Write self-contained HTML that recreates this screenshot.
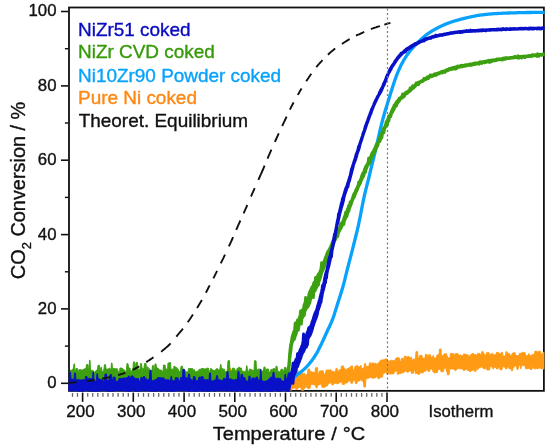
<!DOCTYPE html>
<html lang="en"><head><meta charset="utf-8"><title>CO2 Conversion vs Temperature</title>
<style>html,body{margin:0;padding:0;background:#fff}body{width:550px;height:448px;overflow:hidden}</style></head>
<body>
<svg width="550" height="448" viewBox="0 0 550 448" style="display:block">
<rect width="550" height="448" fill="#fff"/>
<defs><clipPath id="c"><rect x="68.4" y="7.5" width="476.3" height="383.9"/></clipPath></defs>
<rect x="69.0" y="7.5" width="474.9" height="383.35" fill="none" stroke="#111" stroke-width="1.8"/>
<g clip-path="url(#c)" fill="none" stroke-linejoin="round" stroke-linecap="round">
<path d="M71,374.9 71.5,374.9 72,374.9 72.5,374.9 73,374.9 73.5,374.9 74,374.6 74.5,374.6 75,374.6 75.5,374.6 76,374.6 76.5,377.8 77,377.8 77.5,377.8 78,377.8 78.5,375.7 79,375.7 79.5,375.7 80,374.7 80.5,374.7 81,374.7 81.5,374.7 82,374.7 82.5,376.5 83,376.5 83.5,376.5 84,376.5 84.5,376.5 85,376.5 85.5,378.0 86,378.0 86.5,378.0 87,377.4 87.5,377.4 88,377.4 88.5,377.4 89,377.1 89.5,377.1 90,371.2 90.5,371.2 91,371.2 91.5,371.2 92,371.2 92.5,375.1 93,375.1 93.5,377.6 94,377.6 94.5,377.7 95,377.7 95.5,377.7 96,377.7 96.5,377.7 97,376.3 97.5,376.3 98,375.1 98.5,375.1 99,375.1 99.5,375.1 100,376.4 100.5,376.4 101,376.4 101.5,378.7 102,378.7 102.5,378.7 103,378.7 103.5,378.7 104,378.7 104.5,376.6 105,376.6 105.5,376.6 106,376.6 106.5,376.6 107,376.0 107.5,376.0 108,376.0 108.5,378.8 109,378.8 109.5,378.8 110,378.8 110.5,378.8 111,378.8 111.5,375.5 112,375.5 112.5,375.5 113,375.5 113.5,375.5 114,375.8 114.5,375.8 115,375.8 115.5,375.8 116,375.8 116.5,375.8 117,374.9 117.5,374.9 118,374.9 118.5,378.9 119,378.9 119.5,376.0 120,376.0 120.5,378.0 121,378.0 121.5,378.0 122,378.0 122.5,378.0 123,377.4 123.5,377.4 124,377.4 124.5,377.4 125,377.4 125.5,377.5 126,377.5 126.5,377.5 127,377.5 127.5,377.5 128,377.5 128.5,378.6 129,378.6 129.5,378.6 130,378.5 130.5,378.5 131,378.5 131.5,378.4 132,378.4 132.5,378.4 133,378.4 133.5,377.7 134,377.7 134.5,377.7 135,378.8 135.5,378.8 136,378.8 136.5,378.8 137,378.8 137.5,378.7 138,378.7 138.5,378.7 139,378.7 139.5,378.7 140,378.7 140.5,375.0 141,375.0 141.5,375.0 142,375.0 142.5,375.1 143,375.1 143.5,375.1 144,375.1 144.5,375.1 145,376.2 145.5,372.4 146,372.4 146.5,372.4 147,376.3 147.5,377.7 148,377.7 148.5,377.7 149,371.8 149.5,371.8 150,371.8 150.5,371.8 151,371.8 151.5,375.0 152,375.0 152.5,375.0 153,375.0 153.5,375.3 154,375.3 154.5,375.4 155,375.4 155.5,375.4 156,375.4 156.5,375.4 157,375.4 157.5,378.7 158,378.7 158.5,378.7 159,378.7 159.5,378.7 160,376.0 160.5,376.0 161,376.0 161.5,376.0 162,376.0 162.5,377.5 163,377.5 163.5,377.5 164,377.5 164.5,377.5 165,377.4 165.5,377.4 166,375.4 166.5,375.4 167,375.9 167.5,375.9 168,375.9 168.5,377.2 169,377.2 169.5,377.2 170,377.2 170.5,377.2 171,375.7 171.5,375.7 172,375.7 172.5,375.0 173,375.0 173.5,375.0 174,375.0 174.5,375.0 175,378.4 175.5,378.4 176,378.5 176.5,378.5 177,379.0 177.5,379.0 178,375.1 178.5,375.1 179,375.1 179.5,375.1 180,375.1 180.5,377.4 181,377.4 181.5,377.4 182,377.4 182.5,375.5 183,375.5 183.5,375.5 184,374.0 184.5,374.0 185,374.1 185.5,374.1 186,374.1 186.5,378.1 187,377.1 187.5,377.1 188,377.3 188.5,377.3 189,377.3 189.5,377.3 190,377.3 190.5,377.3 191,374.8 191.5,374.8 192,378.6 192.5,378.6 193,378.6 193.5,378.6 194,378.6 194.5,373.9 195,373.9 195.5,373.9 196,378.6 196.5,378.6 197,378.6 197.5,378.6 198,377.2 198.5,377.3 199,377.3 199.5,377.3 200,377.3 200.5,377.3 201,377.0 201.5,377.0 202,376.4 202.5,376.4 203,376.4 203.5,376.4 204,376.4 204.5,376.4 205,375.0 205.5,375.0 206,374.9 206.5,374.9 207,374.9 207.5,374.9 208,377.5 208.5,377.5 209,377.5 209.5,375.1 210,375.1 210.5,375.1 211,375.1 211.5,375.5 212,375.5 212.5,375.5 213,375.5 213.5,375.8 214,375.8 214.5,375.8 215,375.8 215.5,375.8 216,378.3 216.5,378.3 217,377.0 217.5,377.0 218,377.0 218.5,377.0 219,378.3 219.5,378.3 220,378.3 220.5,378.3 221,378.3 221.5,378.3 222,377.4 222.5,377.4 223,377.4 223.5,377.4 224,377.4 224.5,377.4 225,376.4 225.5,376.4 226,376.4 226.5,376.4 227,377.5 227.5,377.5 228,377.5 228.5,377.5 229,377.5 229.5,377.5 230,368.6 230.5,368.6 231,368.6 231.5,375.3 232,375.3 232.5,376.1 233,376.1 233.5,376.1 234,376.1 234.5,376.1 235,376.3 235.5,376.3 236,379.0 236.5,379.0 237,379.0 237.5,379.0 238,379.0 238.5,379.0 239,376.0 239.5,376.0 240,376.0 240.5,376.0 241,376.0 241.5,376.0 242,378.2 242.5,378.2 243,378.2 243.5,378.2 244,376.0 244.5,376.0 245,375.4 245.5,375.4 246,375.4 246.5,375.4 247,375.4 247.5,375.4 248,377.5 248.5,377.5 249,377.5 249.5,377.5 250,377.1 250.5,377.1 251,377.1 251.5,378.5 252,378.5 252.5,378.5 253,378.5 253.5,378.2 254,378.2 254.5,378.2 255,378.2 255.5,378.2 256,378.6 256.5,378.6 257,378.6 257.5,376.3 258,376.3 258.5,377.7 259,377.7 259.5,377.8 260,375.0 260.5,375.0 261,375.0 261.5,377.7 262,377.7 262.5,375.5 263,375.5 263.5,375.5 264,377.6 264.5,377.6 265,377.6 265.5,377.6 266,377.6 266.5,377.3 267,377.3 267.5,377.3 268,377.3 268.5,379.3 269,379.3 269.5,379.3 270,379.3 270.5,375.8 271,375.9 271.5,375.9 272,375.9 272.5,375.9 273,375.9 273.5,375.4 274,375.4 274.5,378.9 275,378.9 275.5,378.9 276,378.9 276.5,378.9 277,377.5 277.5,377.5 278,377.5 278.5,377.5 279,377.5 279.5,377.3 280,377.3 280.5,375.5 281,375.5 281.5,376.4 282,376.4 282.5,378.9 283,378.9 283.5,379.5 284,379.5 284.5,377.3 285,377.3 285.5,377.3 286,377.3 286.5,377.3 287,376.7 287.5,376.7 288,376.7 288.5,376.7 289,376.7 289.5,376.6 290,375.2 290.5,375.1 291,377.4 291.5,377.3 292,377.2 292.5,377.3 293,377.2 293.5,377.1 294,377.0 294.5,375.6 295,375.5 295.5,375.4 296,375.3 296.5,367.3 297,367.2 297.5,367.1 298,373.5 298.5,373.4 299,373.3 299.5,373.2 300,373.4 300.5,373.3 301,373.2 301.5,373.1 302,373.7 302.5,373.6 303,373.5 303.5,373.4 304,373.3 304.5,373.1 305,374.8 305.5,374.7 306,375.5 306.5,375.4 307,374.0 307.5,373.9 308,369.1 308.5,369.0 309,369.0 309.5,368.9 310,371.7 310.5,371.7 311,371.6 311.5,371.6 312,372.3 312.5,372.2 313,372.2 313.5,372.1 314,372.1 314.5,372.7 315,372.6 315.5,367.8 316,367.7 316.5,367.7 317,367.6 317.5,367.5 318,373.8 318.5,373.7 319,373.7 319.5,371.0 320,371.0 320.5,370.9 321,370.9 321.5,370.8 322,370.8 322.5,370.7 323,370.6 323.5,373.6 324,373.5 324.5,374.0 325,373.9 325.5,373.9 326,370.3 326.5,370.2 327,370.2 327.5,370.1 328,370.1 328.5,370.1 329,370.1 329.5,370.0 330,370.0 330.5,369.9 331,369.8 331.5,371.5 332,371.5 332.5,371.4 333,371.4 333.5,371.3 334,371.2 334.5,372.3 335,372.2 335.5,372.2 336,368.5 336.5,368.4 337,368.3 337.5,371.2 338,371.2 338.5,371.1 339,371.1 339.5,369.6 340,369.5 340.5,369.5 341,370.1 341.5,366.1 342,366.1 342.5,366.0 343,365.9 343.5,365.9 344,368.7 344.5,368.6 345,368.6 345.5,369.8 346,369.8 346.5,369.7 347,368.5 347.5,368.5 348,368.4 348.5,368.3 349,368.3 349.5,367.3 350,367.3 350.5,367.2 351,366.0 351.5,366.0 352,365.9 352.5,365.9 353,370.2 353.5,370.1 354,370.1 354.5,370.0 355,366.3 355.5,366.2 356,365.9 356.5,365.8 357,365.7 357.5,365.6 358,367.0 358.5,366.9 359,366.8 359.5,366.6 360,366.5 360.5,365.5 361,365.4 361.5,368.7 362,368.6 362.5,368.4 363,368.3 363.5,368.2 364,368.1 364.5,363.8 365,363.7 365.5,363.6 366,366.7 366.5,366.6 367,366.5 367.5,366.3 368,366.2 368.5,366.2 369,366.1 369.5,362.9 370,362.8 370.5,362.7 371,363.8 371.5,363.6 372,363.5 372.5,363.1 373,362.9 373.5,362.8 374,363.7 374.5,363.6 375,363.5 375.5,363.3 376,363.2 376.5,364.9 377,364.7 377.5,363.3 378,363.2 378.5,363.0 379,362.9 379.5,361.7 380,361.6 380.5,360.2 381,360.1 381.5,360.0 382,360.1 382.5,360.0 383,359.9 383.5,359.7 384,359.6 384.5,359.5 385,359.0 385.5,358.9 386,358.9 386.5,358.8 387,358.8 387.5,361.3 388,361.3 388.5,361.2 389,361.2 389.5,361.1 390,361.1 390.5,360.4 391,360.4 391.5,360.3 392,360.5 392.5,360.5 393,360.4 393.5,360.4 394,360.4 394.5,361.1 395,361.0 395.5,358.5 396,358.4 396.5,357.8 397,357.8 397.5,357.7 398,357.7 398.5,357.6 399,358.2 399.5,358.2 400,361.6 400.5,361.5 401,361.5 401.5,358.4 402,358.4 402.5,358.3 403,358.3 403.5,358.3 404,360.6 404.5,356.1 405,356.0 405.5,356.0 406,360.4 406.5,356.8 407,356.7 407.5,356.7 408,356.6 408.5,356.6 409,356.6 409.5,357.3 410,357.3 410.5,357.2 411,357.2 411.5,357.2 412,360.4 412.5,360.3 413,360.3 413.5,358.9 414,358.9 414.5,358.9 415,359.8 415.5,359.7 416,351.6 416.5,351.6 417,351.5 417.5,351.5 418,358.2 418.5,358.1 419,358.1 419.5,355.5 420,355.5 420.5,355.4 421,355.4 421.5,355.4 422,355.3 422.5,358.4 423,358.3 423.5,358.3 424,358.3 424.5,358.2 425,358.2 425.5,354.3 426,354.3 426.5,354.2 427,356.9 427.5,355.3 428,355.3 428.5,354.9 429,354.9 429.5,354.8 430,354.8 430.5,354.8 431,357.6 431.5,357.6 432,357.6 432.5,357.5 433,355.6 433.5,355.5 434,358.1 434.5,358.1 435,358.1 435.5,358.0 436,358.0 436.5,358.0 437,354.9 437.5,354.8 438,354.8 438.5,354.7 439,354.7 439.5,349.1 440,349.0 440.5,349.0 441,348.9 441.5,357.2 442,357.2 442.5,355.5 443,355.5 443.5,355.4 444,353.9 444.5,353.9 445,353.8 445.5,353.8 446,353.8 446.5,353.7 447,356.4 447.5,356.3 448,358.0 448.5,357.9 449,357.9 449.5,357.9 450,357.8 450.5,353.4 451,353.4 451.5,353.4 452,353.4 452.5,353.6 453,353.5 453.5,353.5 454,354.9 454.5,354.9 455,354.9 455.5,353.5 456,353.5 456.5,353.5 457,353.5 457.5,353.5 458,353.5 458.5,356.1 459,356.1 459.5,356.1 460,354.7 460.5,354.7 461,355.9 461.5,355.8 462,355.8 462.5,355.8 463,355.8 463.5,354.0 464,354.0 464.5,354.0 465,354.0 465.5,354.0 466,354.7 466.5,354.7 467,354.7 467.5,354.7 468,354.7 468.5,355.9 469,355.9 469.5,355.9 470,355.9 470.5,355.9 471,354.1 471.5,354.1 472,354.1 472.5,353.5 473,353.4 473.5,353.4 474,354.5 474.5,354.5 475,354.5 475.5,354.5 476,354.4 476.5,355.4 477,355.4 477.5,353.4 478,353.4 478.5,353.4 479,353.4 479.5,353.3 480,354.2 480.5,354.2 481,354.2 481.5,354.2 482,351.5 482.5,351.4 483,351.4 483.5,353.3 484,353.3 484.5,355.2 485,355.2 485.5,355.2 486,355.2 486.5,352.7 487,352.7 487.5,352.7 488,352.6 488.5,352.6 489,352.6 489.5,355.3 490,355.3 490.5,355.3 491,353.7 491.5,353.7 492,353.7 492.5,353.7 493,353.7 493.5,355.6 494,355.6 494.5,354.6 495,354.5 495.5,354.7 496,354.7 496.5,352.4 497,352.4 497.5,352.4 498,352.4 498.5,352.4 499,353.7 499.5,353.7 500,353.7 500.5,353.6 501,353.6 501.5,352.4 502,352.4 502.5,352.4 503,356.1 503.5,356.1 504,356.0 504.5,356.0 505,356.0 505.5,356.0 506,351.7 506.5,351.7 507,351.7 507.5,353.6 508,353.6 508.5,353.6 509,353.6 509.5,353.5 510,355.5 510.5,355.5 511,355.5 511.5,355.5 512,353.6 512.5,353.6 513,352.7 513.5,352.7 514,352.7 514.5,352.7 515,352.7 515.5,355.3 516,355.3 516.5,355.6 517,355.6 517.5,355.5 518,355.5 518.5,355.5 519,355.5 519.5,353.2 520,353.2 520.5,353.2 521,353.5 521.5,353.5 522,352.3 522.5,352.3 523,352.3 523.5,352.3 524,352.8 524.5,352.8 525,352.7 525.5,355.7 526,355.7 526.5,355.7 527,355.7 527.5,355.4 528,355.4 528.5,353.8 529,353.8 529.5,355.8 530,355.8 530.5,355.7 531,355.7 531.5,355.7 532,354.6 532.5,354.6 533,354.6 533.5,354.6 534,354.6 534.5,354.6 535,351.1 535.5,351.1 536,351.1 536.5,351.1 537,351.8 537.5,351.8 538,351.8 538.5,351.8 539,351.3 539.5,351.3 540,351.2 540.5,351.2 541,354.3 541.5,354.3 542,354.3 542.5,354.2 543,352.5 543.5,352.4 544,352.4 L544,368.9 543.5,369.1 543,369.1 542.5,368.7 542,368.7 541.5,368.8 541,368.8 540.5,368.1 540,368.1 539.5,368.1 539,368.1 538.5,368.2 538,368.9 537.5,368.9 537,368.5 536.5,368.5 536,368.5 535.5,368.8 535,368.8 534.5,368.8 534,368.8 533.5,366.7 533,366.8 532.5,366.8 532,369.4 531.5,369.4 531,369.5 530.5,369.5 530,369.5 529.5,368.4 529,368.4 528.5,368.4 528,368.4 527.5,368.7 527,368.8 526.5,368.8 526,368.8 525.5,368.8 525,365.4 524.5,365.5 524,365.5 523.5,365.7 523,365.7 522.5,365.7 522,365.8 521.5,365.8 521,368.7 520.5,368.7 520,365.1 519.5,365.1 519,365.1 518.5,365.1 518,369.5 517.5,369.5 517,369.5 516.5,366.0 516,366.0 515.5,366.0 515,366.0 514.5,366.0 514,367.5 513.5,367.5 513,367.5 512.5,370.7 512,370.7 511.5,370.7 511,368.7 510.5,368.7 510,368.7 509.5,368.8 509,368.8 508.5,366.0 508,366.0 507.5,366.0 507,368.8 506.5,368.8 506,368.8 505.5,368.8 505,367.0 504.5,367.0 504,367.0 503.5,367.0 503,365.8 502.5,365.8 502,369.8 501.5,369.8 501,369.8 500.5,369.8 500,369.8 499.5,366.9 499,366.9 498.5,366.9 498,368.9 497.5,368.9 497,368.9 496.5,368.9 496,367.4 495.5,367.5 495,367.5 494.5,367.5 494,367.5 493.5,369.0 493,369.0 492.5,366.7 492,366.7 491.5,366.7 491,366.7 490.5,366.7 490,366.8 489.5,370.0 489,370.0 488.5,370.0 488,370.0 487.5,370.1 487,370.1 486.5,367.6 486,367.7 485.5,368.8 485,368.8 484.5,368.8 484,368.8 483.5,368.5 483,368.5 482.5,367.4 482,367.4 481.5,366.1 481,366.1 480.5,367.8 480,367.8 479.5,367.8 479,367.9 478.5,367.9 478,369.6 477.5,369.6 477,366.7 476.5,366.7 476,371.3 475.5,371.3 475,371.3 474.5,371.4 474,369.1 473.5,370.2 473,370.3 472.5,370.3 472,370.3 471.5,370.3 471,371.5 470.5,371.5 470,371.5 469.5,371.5 469,370.6 468.5,370.6 468,370.6 467.5,370.7 467,369.0 466.5,369.1 466,369.1 465.5,369.1 465,370.5 464.5,370.5 464,370.6 463.5,370.6 463,368.9 462.5,368.9 462,368.9 461.5,368.9 461,368.7 460.5,368.7 460,368.8 459.5,368.8 459,368.8 458.5,368.8 458,368.1 457.5,368.1 457,369.7 456.5,369.7 456,369.8 455.5,370.6 455,370.7 454.5,368.9 454,369.0 453.5,369.0 453,369.0 452.5,369.0 452,369.0 451.5,369.1 451,369.1 450.5,369.1 450,369.1 449.5,369.1 449,374.8 448.5,374.8 448,374.9 447.5,374.9 447,371.3 446.5,371.4 446,368.2 445.5,368.2 445,368.3 444.5,368.3 444,368.3 443.5,371.6 443,371.6 442.5,371.7 442,371.7 441.5,371.7 441,371.8 440.5,369.2 440,369.2 439.5,369.3 439,369.3 438.5,369.3 438,369.4 437.5,372.4 437,372.4 436.5,372.4 436,372.5 435.5,373.0 435,373.0 434.5,373.1 434,372.0 433.5,371.8 433,371.9 432.5,369.0 432,369.1 431.5,369.1 431,369.1 430.5,369.2 430,369.2 429.5,371.4 429,371.5 428.5,371.5 428,371.5 427.5,368.7 427,368.8 426.5,368.8 426,371.1 425.5,371.1 425,371.1 424.5,371.2 424,371.2 423.5,372.7 423,372.8 422.5,372.8 422,372.8 421.5,372.9 421,372.7 420.5,372.7 420,372.8 419.5,374.4 419,374.4 418.5,374.5 418,374.5 417.5,373.4 417,373.4 416.5,373.4 416,373.6 415.5,373.7 415,370.4 414.5,370.4 414,370.5 413.5,373.2 413,373.3 412.5,373.3 412,373.3 411.5,373.4 411,370.8 410.5,370.9 410,370.9 409.5,371.0 409,371.0 408.5,372.1 408,372.2 407.5,372.2 407,372.3 406.5,371.2 406,371.2 405.5,371.2 405,371.3 404.5,371.3 404,372.6 403.5,372.7 403,372.7 402.5,372.8 402,372.8 401.5,372.9 401,373.5 400.5,373.6 400,373.6 399.5,373.6 399,374.2 398.5,374.2 398,374.3 397.5,374.3 397,371.0 396.5,371.1 396,371.1 395.5,371.2 395,371.2 394.5,371.2 394,373.8 393.5,373.8 393,373.9 392.5,373.9 392,373.9 391.5,373.9 391,374.0 390.5,374.0 390,374.0 389.5,374.0 389,374.0 388.5,373.4 388,373.4 387.5,374.2 387,374.2 386.5,372.6 386,372.6 385.5,372.7 385,372.7 384.5,372.9 384,373.5 383.5,373.6 383,373.7 382.5,377.0 382,377.1 381.5,377.2 381,377.4 380.5,375.7 380,378.3 379.5,378.4 379,378.6 378.5,378.7 378,378.8 377.5,376.0 377,376.1 376.5,376.2 376,377.6 375.5,377.7 375,377.8 374.5,377.9 374,378.1 373.5,378.2 373,378.1 372.5,378.2 372,378.3 371.5,377.1 371,377.3 370.5,377.4 370,377.5 369.5,377.7 369,377.8 368.5,378.3 368,378.4 367.5,378.5 367,378.7 366.5,378.8 366,377.1 365.5,386.9 365,387.0 364.5,387.1 364,387.2 363.5,382.0 363,382.1 362.5,380.3 362,380.4 361.5,380.5 361,379.1 360.5,379.2 360,380.8 359.5,380.9 359,381.0 358.5,381.1 358,381.2 357.5,381.3 357,383.3 356.5,383.4 356,383.5 355.5,383.6 355,380.1 354.5,380.2 354,380.2 353.5,380.9 353,381.0 352.5,383.2 352,383.3 351.5,383.3 351,383.4 350.5,380.8 350,380.8 349.5,380.9 349,381.0 348.5,381.0 348,381.1 347.5,382.8 347,382.9 346.5,383.0 346,383.0 345.5,383.1 345,383.1 344.5,384.3 344,384.4 343.5,384.4 343,384.5 342.5,384.5 342,381.9 341.5,381.9 341,382.0 340.5,382.3 340,382.4 339.5,382.4 339,382.5 338.5,383.7 338,383.8 337.5,383.8 337,383.9 336.5,383.2 336,383.3 335.5,383.3 335,383.4 334.5,383.4 334,383.5 333.5,384.8 333,384.8 332.5,384.9 332,385.0 331.5,382.7 331,382.8 330.5,382.9 330,382.9 329.5,383.0 329,383.8 328.5,383.8 328,383.9 327.5,386.0 327,386.0 326.5,386.1 326,386.1 325.5,386.2 325,387.3 324.5,387.4 324,387.4 323.5,387.2 323,387.2 322.5,387.3 322,387.4 321.5,384.2 321,384.3 320.5,384.3 320,384.4 319.5,384.4 319,384.5 318.5,385.3 318,385.4 317.5,385.4 317,387.7 316.5,387.8 316,387.8 315.5,384.8 315,384.9 314.5,384.9 314,385.0 313.5,385.0 313,384.3 312.5,384.4 312,384.4 311.5,384.5 311,384.5 310.5,384.6 310,388.3 309.5,388.3 309,388.4 308.5,388.4 308,388.5 307.5,388.0 307,388.0 306.5,385.5 306,385.5 305.5,385.6 305,388.3 304.5,388.4 304,387.1 303.5,390.3 303,390.3 302.5,390.3 302,390.3 301.5,390.3 301,387.3 300.5,387.4 300,387.5 299.5,387.5 299,387.6 298.5,387.7 298,387.8 297.5,389.3 297,389.5 296.5,389.6 296,389.7 295.5,387.7 295,387.8 294.5,387.9 294,388.0 293.5,388.2 293,388.3 292.5,388.4 292,388.5 291.5,390.3 291,390.3 290.5,390.3 290,390.3 289.5,390.3 289,390.3 288.5,390.3 288,390.3 287.5,390.3 287,390.3 286.5,390.3 286,390.3 285.5,390.3 285,390.3 284.5,390.3 284,390.3 283.5,389.7 283,389.7 282.5,389.9 282,390.3 281.5,390.3 281,390.3 280.5,390.3 280,390.3 279.5,390.3 279,389.7 278.5,389.7 278,389.7 277.5,390.3 277,390.3 276.5,390.3 276,390.3 275.5,390.0 275,390.0 274.5,390.0 274,389.8 273.5,389.8 273,389.8 272.5,389.8 272,390.3 271.5,390.3 271,390.3 270.5,390.3 270,390.3 269.5,389.4 269,389.4 268.5,389.4 268,389.4 267.5,389.4 267,389.4 266.5,390.3 266,390.3 265.5,390.3 265,390.3 264.5,390.3 264,388.5 263.5,388.5 263,388.5 262.5,388.5 262,388.5 261.5,388.5 261,390.3 260.5,390.3 260,390.3 259.5,390.3 259,390.3 258.5,390.3 258,390.3 257.5,390.3 257,390.3 256.5,390.3 256,390.3 255.5,390.3 255,390.3 254.5,390.3 254,390.3 253.5,390.3 253,390.3 252.5,390.3 252,390.3 251.5,390.3 251,390.3 250.5,390.3 250,390.3 249.5,390.3 249,390.3 248.5,390.3 248,390.3 247.5,390.3 247,390.3 246.5,390.3 246,390.3 245.5,390.3 245,390.3 244.5,390.3 244,390.3 243.5,390.3 243,390.3 242.5,390.3 242,390.3 241.5,389.4 241,389.4 240.5,389.4 240,389.4 239.5,388.9 239,388.9 238.5,388.9 238,388.9 237.5,388.9 237,390.3 236.5,390.3 236,390.3 235.5,390.3 235,390.1 234.5,390.1 234,390.1 233.5,390.3 233,390.3 232.5,390.3 232,390.3 231.5,390.3 231,390.3 230.5,390.3 230,390.3 229.5,390.3 229,390.3 228.5,390.3 228,390.3 227.5,390.3 227,390.3 226.5,390.3 226,390.3 225.5,390.3 225,390.3 224.5,390.3 224,390.3 223.5,390.3 223,390.3 222.5,390.3 222,390.3 221.5,390.3 221,390.3 220.5,390.3 220,390.3 219.5,390.3 219,390.3 218.5,390.0 218,390.0 217.5,390.0 217,390.0 216.5,390.0 216,390.3 215.5,390.3 215,390.3 214.5,390.3 214,390.3 213.5,390.3 213,390.3 212.5,390.3 212,390.3 211.5,390.3 211,390.3 210.5,388.4 210,388.4 209.5,388.4 209,388.4 208.5,388.4 208,389.0 207.5,389.0 207,389.0 206.5,388.9 206,388.9 205.5,388.9 205,388.9 204.5,388.9 204,388.9 203.5,388.5 203,388.5 202.5,388.7 202,388.7 201.5,388.7 201,388.7 200.5,388.7 200,389.2 199.5,389.2 199,390.3 198.5,390.3 198,390.3 197.5,390.3 197,390.3 196.5,390.3 196,390.3 195.5,390.3 195,390.3 194.5,390.3 194,390.3 193.5,390.3 193,390.3 192.5,390.3 192,390.3 191.5,390.3 191,390.3 190.5,390.3 190,390.3 189.5,390.3 189,390.3 188.5,390.3 188,390.3 187.5,389.5 187,389.5 186.5,389.5 186,389.4 185.5,389.4 185,390.3 184.5,390.3 184,390.3 183.5,390.3 183,390.3 182.5,388.3 182,388.3 181.5,388.3 181,390.3 180.5,390.3 180,390.3 179.5,390.3 179,389.1 178.5,389.1 178,389.1 177.5,390.3 177,390.3 176.5,390.3 176,390.3 175.5,390.3 175,390.3 174.5,390.3 174,390.3 173.5,388.3 173,388.3 172.5,388.3 172,388.3 171.5,388.3 171,388.3 170.5,388.3 170,390.3 169.5,390.3 169,390.3 168.5,390.3 168,390.3 167.5,390.3 167,390.3 166.5,390.3 166,390.3 165.5,390.3 165,390.3 164.5,390.3 164,389.0 163.5,389.0 163,389.0 162.5,387.8 162,387.8 161.5,390.3 161,390.3 160.5,390.3 160,388.9 159.5,388.9 159,388.9 158.5,390.1 158,390.1 157.5,390.1 157,390.1 156.5,390.1 156,390.3 155.5,390.3 155,390.3 154.5,390.3 154,390.3 153.5,390.3 153,390.3 152.5,390.3 152,390.3 151.5,390.3 151,390.3 150.5,390.3 150,390.3 149.5,390.3 149,390.3 148.5,390.3 148,390.3 147.5,390.3 147,390.3 146.5,390.3 146,389.0 145.5,389.0 145,389.0 144.5,389.0 144,389.0 143.5,389.1 143,389.1 142.5,389.1 142,389.1 141.5,389.1 141,389.1 140.5,389.0 140,390.3 139.5,390.3 139,390.3 138.5,390.3 138,390.3 137.5,390.3 137,390.3 136.5,390.3 136,390.3 135.5,390.3 135,388.6 134.5,388.6 134,388.6 133.5,388.6 133,390.3 132.5,390.3 132,390.3 131.5,390.3 131,390.3 130.5,390.3 130,390.3 129.5,390.3 129,389.0 128.5,389.0 128,388.3 127.5,388.3 127,388.3 126.5,388.3 126,387.9 125.5,387.9 125,387.9 124.5,387.9 124,387.9 123.5,390.3 123,390.3 122.5,389.0 122,389.0 121.5,389.0 121,387.7 120.5,387.7 120,389.8 119.5,389.8 119,390.3 118.5,390.3 118,390.3 117.5,390.3 117,390.3 116.5,388.7 116,387.8 115.5,387.8 115,387.8 114.5,387.8 114,387.8 113.5,387.8 113,389.2 112.5,389.2 112,389.2 111.5,389.2 111,389.2 110.5,390.3 110,390.3 109.5,390.3 109,390.3 108.5,390.3 108,390.3 107.5,389.8 107,389.8 106.5,389.8 106,389.8 105.5,389.8 105,389.8 104.5,388.1 104,388.1 103.5,390.3 103,390.3 102.5,390.3 102,390.3 101.5,390.3 101,389.3 100.5,389.3 100,389.3 99.5,389.3 99,389.2 98.5,389.2 98,389.2 97.5,389.2 97,389.2 96.5,389.9 96,389.9 95.5,389.9 95,389.9 94.5,390.0 94,390.0 93.5,390.3 93,390.3 92.5,390.3 92,388.7 91.5,388.7 91,388.7 90.5,388.7 90,388.7 89.5,388.6 89,388.6 88.5,388.6 88,388.6 87.5,388.5 87,388.7 86.5,388.7 86,388.7 85.5,390.2 85,390.2 84.5,390.2 84,390.2 83.5,390.2 83,390.2 82.5,389.9 82,389.9 81.5,390.3 81,390.3 80.5,390.3 80,390.3 79.5,390.3 79,390.3 78.5,390.3 78,390.3 77.5,390.3 77,390.3 76.5,390.3 76,389.8 75.5,389.8 75,389.8 74.5,389.7 74,389.7 73.5,389.4 73,389.4 72.5,389.4 72,389.4 71.5,389.4 71,389.4Z" stroke="#ff9a14" fill="#ff9a14" stroke-width="1"/>
<path d="M288.50,384.5 289,383.8 289.50,383.2 290,382.5 290.50,381.8 291,381.2 291.50,380.5 292,379.9 292.50,379.3 293,378.8 293.50,378.2 294,377.7 294.50,377.1 295,376.6 295.50,376.2 296,375.7 296.50,375.3 297,374.9 297.50,374.5 298,374.1 298.50,373.7 299,373.3 299.50,373.0 300,372.6 300.50,372.2 301,371.9 301.50,371.5 302,371.1 302.50,370.6 303,370.2 303.50,369.8 304,369.3 304.50,368.8 305,368.3 305.50,367.8 306,367.3 306.50,366.8 307,366.3 307.50,365.8 308,365.2 308.50,364.6 309,364.1 309.50,363.5 310,362.9 310.50,362.2 311,361.6 311.50,361.0 312,360.3 312.50,359.6 313,358.9 313.50,358.2 314,357.5 314.50,356.7 315,356.0 315.50,355.2 316,354.3 316.50,353.5 317,352.6 317.50,351.7 318,350.8 318.50,349.8 319,348.8 319.50,347.8 320,346.8 320.50,345.8 321,344.7 321.50,343.7 322,342.6 322.50,341.5 323,340.5 323.50,339.4 324,338.3 324.50,337.2 325,336.1 325.50,335.0 326,333.9 326.50,332.8 327,331.7 327.50,330.6 328,329.6 328.50,328.5 329,327.4 329.50,326.4 330,325.3 330.50,324.2 331,323.1 331.50,321.9 332,320.7 332.50,319.4 333,318.1 333.50,316.7 334,315.2 334.50,313.7 335,312.1 335.50,310.5 336,308.9 336.50,307.3 337,305.7 337.50,304.1 338,302.5 338.50,301.0 339,299.4 339.50,297.8 340,296.2 340.50,294.7 341,293.1 341.50,291.5 342,289.8 342.50,288.2 343,286.4 343.50,284.6 344,282.7 344.50,280.8 345,278.8 345.50,276.7 346,274.7 346.50,272.6 347,270.6 347.50,268.7 348,266.7 348.50,264.8 349,262.9 349.50,261.0 350,259.1 350.50,257.2 351,255.2 351.50,253.3 352,251.3 352.50,249.3 353,247.3 353.50,245.3 354,243.3 354.50,241.3 355,239.3 355.50,237.3 356,235.3 356.50,233.3 357,231.3 357.50,229.2 358,227.1 358.50,224.8 359,222.5 359.50,220.1 360,217.6 360.50,215.1 361,212.5 361.50,209.8 362,207.2 362.50,204.6 363,202.1 363.50,199.7 364,197.3 364.50,195.1 365,193.0 365.50,190.9 366,188.9 366.50,186.9 367,185.0 367.50,183.0 368,181.1 368.50,179.1 369,177.0 369.50,175.0 370,172.9 370.50,170.7 371,168.6 371.50,166.5 372,164.5 372.50,162.4 373,160.5 373.50,158.5 374,156.5 374.50,154.6 375,152.5 375.50,150.4 376,148.3 376.50,146.1 377,143.8 377.50,141.5 378,139.3 378.50,137.0 379,134.8 379.50,132.6 380,130.4 380.50,128.4 381,126.3 381.50,124.3 382,122.4 382.50,120.5 383,118.6 383.50,116.8 384,115.0 384.50,113.2 385,111.5 385.50,109.8 386,108.1 386.50,106.5 387,104.9 387.50,103.3 388,101.7 388.50,100.1 389,98.5 389.50,96.9 390,95.3 390.50,93.7 391,92.1 391.50,90.5 392,88.9 392.50,87.3 393,85.7 393.50,84.2 394,82.7 394.50,81.2 395,79.8 395.50,78.4 396,77.0 396.50,75.7 397,74.4 397.50,73.1 398,71.9 398.50,70.7 399,69.6 399.50,68.5 400,67.4 400.50,66.3 401,65.3 401.50,64.3 402,63.4 402.50,62.5 403,61.5 403.50,60.7 404,59.8 404.50,59.0 405,58.1 405.50,57.3 406,56.6 406.50,55.8 407,55.1 407.50,54.3 408,53.6 408.50,53.0 409,52.3 409.50,51.7 410,51.0 410.50,50.4 411,49.8 411.50,49.3 412,48.7 412.50,48.1 413,47.6 413.50,47.0 414,46.5 414.50,45.9 415,45.4 415.50,44.9 416,44.3 416.50,43.8 417,43.3 417.50,42.8 418,42.3 418.50,41.8 419,41.3 419.50,40.8 420,40.3 420.50,39.9 421,39.4 421.50,38.9 422,38.5 422.50,38.1 423,37.6 423.50,37.2 424,36.8 424.50,36.4 425,35.9 425.50,35.5 426,35.2 426.50,34.8 427,34.4 427.50,34.0 428,33.7 428.50,33.3 429,33.0 429.50,32.6 430,32.3 430.50,32.0 431,31.7 431.50,31.3 432,31.0 432.50,30.7 433,30.4 433.50,30.2 434,29.9 434.50,29.6 435,29.3 435.50,29.0 436,28.8 436.50,28.5 437,28.2 437.50,28.0 438,27.7 438.50,27.4 439,27.2 439.50,26.9 440,26.7 440.50,26.5 441,26.2 441.50,26.0 442,25.8 442.50,25.5 443,25.3 443.50,25.1 444,24.9 444.50,24.6 445,24.4 445.50,24.2 446,24.0 446.50,23.8 447,23.6 447.50,23.4 448,23.2 448.50,23.0 449,22.9 449.50,22.7 450,22.5 450.50,22.3 451,22.1 451.50,22.0 452,21.8 452.50,21.7 453,21.5 453.50,21.3 454,21.2 454.50,21.0 455,20.9 455.50,20.7 456,20.6 456.50,20.4 457,20.3 457.50,20.2 458,20.0 458.50,19.9 459,19.7 459.50,19.6 460,19.5 460.50,19.3 461,19.2 461.50,19.1 462,18.9 462.50,18.8 463,18.7 463.50,18.6 464,18.4 464.50,18.3 465,18.2 465.50,18.1 466,18.0 466.50,17.8 467,17.7 467.50,17.6 468,17.5 468.50,17.4 469,17.3 469.50,17.1 470,17.0 470.50,16.9 471,16.8 471.50,16.7 472,16.6 472.50,16.5 473,16.4 473.50,16.3 474,16.2 474.50,16.1 475,16.0 475.50,15.9 476,15.8 476.50,15.7 477,15.6 477.50,15.5 478,15.4 478.50,15.4 479,15.3 479.50,15.2 480,15.1 480.50,15.1 481,15.0 481.50,14.9 482,14.9 482.50,14.8 483,14.8 483.50,14.7 484,14.6 484.50,14.6 485,14.5 485.50,14.5 486,14.4 486.50,14.4 487,14.3 487.50,14.3 488,14.2 488.50,14.2 489,14.1 489.50,14.1 490,14.0 490.50,14.0 491,13.9 491.50,13.9 492,13.9 492.50,13.8 493,13.8 493.50,13.7 494,13.7 494.50,13.7 495,13.6 495.50,13.6 496,13.6 496.50,13.6 497,13.5 497.50,13.5 498,13.5 498.50,13.4 499,13.4 499.50,13.4 500,13.4 500.50,13.3 501,13.3 501.50,13.3 502,13.3 502.50,13.2 503,13.2 503.50,13.2 504,13.2 504.50,13.2 505,13.1 505.50,13.1 506,13.1 506.50,13.1 507,13.1 507.50,13.0 508,13.0 508.50,13.0 509,13.0 509.50,13.0 510,13.0 510.50,12.9 511,12.9 511.50,12.9 512,12.9 512.50,12.9 513,12.9 513.50,12.8 514,12.8 514.50,12.8 515,12.8 515.50,12.8 516,12.8 516.50,12.8 517,12.7 517.50,12.7 518,12.7 518.50,12.7 519,12.7 519.50,12.7 520,12.7 520.50,12.7 521,12.6 521.50,12.6 522,12.6 522.50,12.6 523,12.6 523.50,12.6 524,12.6 524.50,12.6 525,12.6 525.50,12.6 526,12.5 526.50,12.5 527,12.5 527.50,12.5 528,12.5 528.50,12.5 529,12.5 529.50,12.5 530,12.5 530.50,12.5 531,12.5 531.50,12.5 532,12.4 532.50,12.4 533,12.4 533.50,12.4 534,12.4 534.50,12.4 535,12.4 535.50,12.4 536,12.4 536.50,12.4 537,12.4 537.50,12.4 538,12.4 538.50,12.4 539,12.3 539.50,12.3 540,12.3 540.50,12.3 541,12.3 541.50,12.3 542,12.3 542.50,12.3 543,12.3 543.50,12.3 544,12.3" stroke="#08a2fc" stroke-width="3.3"/>
<path d="M71,370.0 71.5,370.0 72,370.5 72.5,370.5 73,368.5 73.5,368.5 74,363.9 74.5,363.9 75,371.9 75.5,371.9 76,368.5 76.5,368.5 77,368.5 77.5,368.5 78,372.0 78.5,372.0 79,369.5 79.5,369.5 80,369.5 80.5,369.5 81,369.5 81.5,370.1 82,370.1 82.5,370.1 83,370.1 83.5,369.1 84,369.1 84.5,369.1 85,368.5 85.5,368.5 86,368.5 86.5,364.6 87,364.6 87.5,364.6 88,364.6 88.5,370.1 89,370.1 89.5,360.2 90,360.2 90.5,370.1 91,370.3 91.5,370.3 92,370.3 92.5,370.3 93,370.3 93.5,372.1 94,372.1 94.5,372.1 95,372.1 95.5,372.1 96,370.3 96.5,370.3 97,370.0 97.5,370.0 98,365.3 98.5,365.3 99,365.3 99.5,365.3 100,370.4 100.5,368.9 101,367.3 101.5,367.3 102,371.6 102.5,371.6 103,371.6 103.5,371.6 104,368.5 104.5,364.7 105,364.7 105.5,364.7 106,368.5 106.5,369.1 107,369.1 107.5,369.1 108,369.1 108.5,369.1 109,368.3 109.5,368.3 110,368.3 110.5,369.7 111,369.7 111.5,363.0 112,363.0 112.5,369.7 113,368.5 113.5,368.5 114,368.5 114.5,368.5 115,368.5 115.5,368.8 116,368.8 116.5,368.8 117,368.8 117.5,368.8 118,371.8 118.5,371.8 119,371.8 119.5,371.8 120,368.0 120.5,368.0 121,368.0 121.5,368.0 122,368.0 122.5,368.8 123,368.8 123.5,369.9 124,369.9 124.5,369.9 125,371.8 125.5,371.8 126,371.8 126.5,369.4 127,363.6 127.5,363.6 128,363.6 128.5,368.0 129,368.0 129.5,368.0 130,368.0 130.5,372.2 131,372.2 131.5,372.2 132,369.9 132.5,369.9 133,368.1 133.5,361.9 134,361.9 134.5,361.9 135,368.1 135.5,368.0 136,362.5 136.5,362.5 137,362.5 137.5,362.5 138,370.4 138.5,369.2 139,369.2 139.5,369.2 140,369.2 140.5,363.6 141,363.6 141.5,363.6 142,368.3 142.5,368.3 143,368.3 143.5,368.6 144,368.6 144.5,363.5 145,363.5 145.5,363.5 146,363.5 146.5,369.9 147,369.9 147.5,366.9 148,366.9 148.5,371.1 149,368.7 149.5,368.7 150,370.5 150.5,370.5 151,370.5 151.5,370.5 152,370.5 152.5,365.6 153,365.6 153.5,365.6 154,371.4 154.5,371.4 155,363.9 155.5,363.9 156,363.9 156.5,368.0 157,368.0 157.5,368.0 158,368.0 158.5,369.2 159,369.2 159.5,370.0 160,370.0 160.5,370.0 161,370.0 161.5,370.0 162,371.6 162.5,371.6 163,371.6 163.5,365.0 164,365.0 164.5,365.0 165,365.0 165.5,369.3 166,369.3 166.5,369.0 167,369.0 167.5,371.9 168,362.9 168.5,362.9 169,369.4 169.5,362.5 170,362.5 170.5,362.5 171,369.4 171.5,369.2 172,369.2 172.5,369.2 173,369.2 173.5,369.2 174,366.1 174.5,366.1 175,371.1 175.5,366.9 176,366.9 176.5,368.2 177,368.2 177.5,368.2 178,369.6 178.5,369.6 179,371.5 179.5,371.5 180,371.5 180.5,371.5 181,366.3 181.5,366.3 182,366.3 182.5,366.3 183,370.7 183.5,370.7 184,370.9 184.5,370.9 185,370.9 185.5,370.9 186,371.9 186.5,371.9 187,371.9 187.5,371.9 188,371.9 188.5,368.5 189,368.5 189.5,368.5 190,368.5 190.5,368.5 191,368.5 191.5,368.5 192,368.5 192.5,368.5 193,369.8 193.5,369.8 194,369.8 194.5,369.8 195,371.7 195.5,371.7 196,371.7 196.5,371.2 197,371.2 197.5,371.2 198,371.2 198.5,371.2 199,369.4 199.5,369.4 200,369.4 200.5,369.4 201,368.6 201.5,368.6 202,368.5 202.5,368.5 203,368.5 203.5,368.5 204,368.9 204.5,368.9 205,368.9 205.5,368.9 206,368.9 206.5,368.2 207,368.2 207.5,368.2 208,368.2 208.5,368.2 209,371.6 209.5,371.6 210,371.6 210.5,368.6 211,368.6 211.5,368.6 212,370.0 212.5,370.0 213,370.0 213.5,370.0 214,370.5 214.5,370.5 215,370.5 215.5,370.5 216,368.9 216.5,368.9 217,368.4 217.5,368.4 218,370.3 218.5,370.3 219,369.3 219.5,369.3 220,369.3 220.5,364.5 221,364.5 221.5,370.7 222,370.7 222.5,368.5 223,368.5 223.5,369.3 224,369.3 224.5,369.3 225,371.8 225.5,371.8 226,371.8 226.5,371.8 227,371.8 227.5,368.4 228,360.7 228.5,360.7 229,360.7 229.5,360.7 230,372.0 230.5,372.0 231,370.9 231.5,370.9 232,370.9 232.5,368.2 233,368.2 233.5,368.2 234,368.2 234.5,368.2 235,370.8 235.5,370.8 236,370.8 236.5,370.8 237,368.5 237.5,368.5 238,368.5 238.5,367.3 239,367.3 239.5,367.3 240,368.1 240.5,368.1 241,368.1 241.5,368.1 242,371.3 242.5,371.3 243,371.3 243.5,371.4 244,371.4 244.5,371.4 245,371.4 245.5,371.2 246,371.2 246.5,365.8 247,365.8 247.5,371.3 248,371.3 248.5,371.3 249,371.3 249.5,369.0 250,369.0 250.5,369.0 251,369.6 251.5,369.6 252,370.0 252.5,370.0 253,370.5 253.5,370.5 254,370.5 254.5,360.8 255,360.8 255.5,360.8 256,360.8 256.5,370.6 257,370.6 257.5,369.4 258,369.4 258.5,369.1 259,369.1 259.5,369.1 260,369.1 260.5,369.1 261,371.3 261.5,371.3 262,371.3 262.5,371.3 263,370.3 263.5,370.3 264,367.0 264.5,367.0 265,367.0 265.5,370.8 266,370.8 266.5,369.0 267,369.0 267.5,369.0 268,369.0 268.5,369.0 269,372.1 269.5,372.1 270,372.1 270.5,372.1 271,369.3 271.5,369.3 272,370.3 272.5,370.3 273,368.6 273.5,368.6 274,368.6 274.5,368.6 275,371.3 275.5,371.3 276,366.2 276.5,366.2 277,366.2 277.5,370.6 278,370.6 278.5,371.8 279,371.8 279.5,371.8 280,371.8 280.5,371.8 281,369.2 281.5,369.2 282,369.2 282.5,369.2 283,370.7 283.5,370.7 284,370.7 284.5,367.4 285,367.4 285.5,367.4 286,367.4 286.5,371.1 287,371.1 287.5,371.1 288,369.6 288.5,366.8 289,357.7 289.5,353.0 L289.5,363.9 289,371.0 288.5,380.0 288,392.2 287.5,392.2 287,392.2 286.5,381.3 286,381.3 285.5,381.3 285,381.3 284.5,384.9 284,384.9 283.5,384.9 283,384.9 282.5,382.7 282,382.7 281.5,381.7 281,381.7 280.5,387.9 280,387.9 279.5,381.6 279,381.6 278.5,382.6 278,382.6 277.5,382.6 277,382.6 276.5,382.6 276,384.8 275.5,384.8 275,384.8 274.5,383.1 274,383.1 273.5,383.1 273,383.1 272.5,383.1 272,384.1 271.5,384.1 271,384.1 270.5,381.9 270,381.9 269.5,390.2 269,390.2 268.5,390.2 268,383.4 267.5,383.4 267,383.4 266.5,383.4 266,384.8 265.5,384.8 265,384.8 264.5,384.8 264,384.8 263.5,384.8 263,384.8 262.5,383.4 262,383.4 261.5,381.6 261,381.6 260.5,381.6 260,381.6 259.5,386.5 259,386.5 258.5,386.5 258,382.6 257.5,382.4 257,382.4 256.5,384.0 256,384.0 255.5,384.0 255,384.0 254.5,384.9 254,384.9 253.5,384.6 253,384.6 252.5,383.4 252,383.4 251.5,383.4 251,382.6 250.5,382.6 250,382.6 249.5,382.6 249,389.4 248.5,389.4 248,389.4 247.5,382.7 247,382.7 246.5,381.9 246,381.9 245.5,381.9 245,381.9 244.5,387.1 244,387.1 243.5,384.6 243,387.9 242.5,387.9 242,387.9 241.5,387.9 241,382.7 240.5,382.7 240,386.6 239.5,386.6 239,382.8 238.5,382.8 238,382.8 237.5,382.8 237,385.7 236.5,385.7 236,383.8 235.5,383.8 235,388.9 234.5,388.9 234,388.9 233.5,385.0 233,389.8 232.5,389.8 232,389.8 231.5,389.8 231,384.8 230.5,384.8 230,384.8 229.5,384.2 229,384.2 228.5,384.2 228,384.2 227.5,384.2 227,382.8 226.5,382.8 226,382.8 225.5,382.8 225,382.8 224.5,384.0 224,384.0 223.5,384.0 223,381.3 222.5,381.3 222,381.3 221.5,381.3 221,381.3 220.5,384.2 220,384.2 219.5,384.2 219,384.2 218.5,384.2 218,381.7 217.5,381.7 217,381.7 216.5,381.7 216,381.7 215.5,381.2 215,381.2 214.5,381.2 214,384.0 213.5,384.0 213,384.0 212.5,392.1 212,392.1 211.5,382.5 211,382.5 210.5,382.5 210,381.2 209.5,381.2 209,382.9 208.5,382.9 208,382.9 207.5,381.6 207,381.6 206.5,381.6 206,381.6 205.5,382.5 205,382.5 204.5,382.5 204,382.5 203.5,382.5 203,382.6 202.5,382.6 202,382.6 201.5,383.4 201,383.4 200.5,383.4 200,383.6 199.5,383.6 199,389.4 198.5,389.4 198,389.4 197.5,389.4 197,384.0 196.5,381.5 196,381.5 195.5,381.5 195,381.5 194.5,390.8 194,390.8 193.5,384.0 193,384.0 192.5,383.9 192,383.9 191.5,383.9 191,382.4 190.5,382.4 190,382.4 189.5,382.4 189,382.4 188.5,384.9 188,384.9 187.5,384.9 187,384.6 186.5,384.6 186,381.4 185.5,381.4 185,381.4 184.5,381.4 184,387.4 183.5,387.4 183,387.4 182.5,384.2 182,382.0 181.5,390.9 181,390.9 180.5,390.9 180,382.0 179.5,383.5 179,383.5 178.5,383.5 178,383.5 177.5,383.8 177,383.8 176.5,383.8 176,382.1 175.5,382.1 175,382.1 174.5,382.1 174,384.2 173.5,384.2 173,384.2 172.5,384.2 172,384.2 171.5,381.4 171,381.4 170.5,381.4 170,383.5 169.5,383.5 169,383.5 168.5,383.5 168,383.5 167.5,380.9 167,380.9 166.5,380.9 166,383.9 165.5,388.6 165,388.6 164.5,388.6 164,384.6 163.5,384.6 163,384.6 162.5,390.6 162,390.6 161.5,390.6 161,383.0 160.5,382.0 160,387.5 159.5,387.5 159,387.5 158.5,387.5 158,383.6 157.5,383.6 157,382.8 156.5,382.8 156,382.8 155.5,382.8 155,382.8 154.5,384.6 154,384.6 153.5,382.8 153,382.8 152.5,382.8 152,382.1 151.5,382.1 151,387.7 150.5,387.7 150,387.7 149.5,384.0 149,384.0 148.5,381.8 148,381.8 147.5,381.8 147,381.8 146.5,381.5 146,381.5 145.5,381.5 145,384.3 144.5,384.3 144,384.3 143.5,383.3 143,383.3 142.5,383.3 142,383.3 141.5,386.4 141,386.4 140.5,381.9 140,381.9 139.5,386.3 139,386.3 138.5,382.0 138,382.0 137.5,382.0 137,382.0 136.5,385.1 136,385.1 135.5,385.1 135,384.4 134.5,384.4 134,392.4 133.5,392.4 133,392.4 132.5,392.4 132,382.1 131.5,382.1 131,382.1 130.5,382.1 130,381.8 129.5,387.4 129,387.4 128.5,387.4 128,380.9 127.5,380.9 127,380.9 126.5,380.9 126,380.9 125.5,380.9 125,382.7 124.5,382.7 124,384.3 123.5,384.3 123,384.3 122.5,381.2 122,381.2 121.5,381.2 121,381.2 120.5,382.9 120,382.9 119.5,382.9 119,382.9 118.5,382.9 118,382.2 117.5,382.2 117,384.0 116.5,384.0 116,382.2 115.5,382.2 115,382.2 114.5,383.5 114,383.5 113.5,388.0 113,388.0 112.5,388.0 112,384.8 111.5,384.9 111,384.9 110.5,382.0 110,382.0 109.5,387.2 109,387.2 108.5,387.2 108,387.2 107.5,381.4 107,384.4 106.5,384.4 106,384.0 105.5,384.0 105,391.1 104.5,391.1 104,391.1 103.5,391.1 103,384.4 102.5,383.5 102,383.5 101.5,383.5 101,383.5 100.5,383.0 100,383.0 99.5,384.1 99,384.1 98.5,384.1 98,384.1 97.5,384.1 97,384.8 96.5,384.8 96,384.4 95.5,384.4 95,384.4 94.5,384.4 94,384.3 93.5,384.3 93,384.8 92.5,384.8 92,384.8 91.5,384.8 91,384.8 90.5,381.0 90,381.0 89.5,381.0 89,382.5 88.5,382.5 88,384.4 87.5,384.4 87,384.4 86.5,382.1 86,392.4 85.5,392.4 85,382.1 84.5,383.8 84,388.3 83.5,388.3 83,384.0 82.5,389.5 82,389.5 81.5,389.5 81,383.2 80.5,382.7 80,382.7 79.5,382.7 79,382.7 78.5,382.7 78,388.4 77.5,388.4 77,388.4 76.5,388.4 76,381.8 75.5,381.8 75,384.8 74.5,384.8 74,384.8 73.5,382.6 73,382.6 72.5,382.6 72,382.6 71.5,382.0 71,382.0Z" stroke="#3ca010" fill="#3ca010" stroke-width="1"/>
<path d="M288,369.3 288.5,366.1 289,360.6 289.5,353.8 290,348.8 290.5,344.9 291,342.7 291.5,340.4 292,336.5 292.5,335.4 293,333.7 293.5,332.2 294,331.1 294.5,329.7 295,323.1 295.5,327.0 296,323.9 296.5,322.5 297,321.2 297.5,319.8 298,320.8 298.5,319.4 299,318.1 299.5,316.9 300,314.7 300.5,310.7 301,312.1 301.5,311.0 302,310.0 302.5,310.1 303,309.0 303.5,308.0 304,304.5 304.5,303.5 305,302.7 305.5,297.3 306,300.5 306.5,299.5 307,299.6 307.5,298.5 308,297.4 308.5,296.3 309,293.2 309.5,292.1 310,291.0 310.5,289.9 311,288.7 311.5,287.6 312,286.5 312.5,287.6 313,286.5 313.5,283.2 314,282.1 314.5,282.5 315,281.5 315.5,277.4 316,279.5 316.5,277.7 317,278.4 317.5,275.7 318,274.7 318.5,273.7 319,273.5 319.5,272.4 320,271.2 320.5,270.0 321,267.2 321.5,262.5 322,266.3 322.5,265.2 323,263.9 323.5,262.5 324,261.2 324.5,260.0 325,258.3 325.5,257.1 326,255.9 326.5,254.7 327,252.7 327.5,251.8 328,250.8 328.5,250.7 329,249.7 329.5,248.7 330,247.7 330.5,246.4 331,245.3 331.5,244.2 332,242.4 332.5,241.2 333,240.1 333.5,239.2 334,238.1 334.5,237.0 335,235.8 335.5,235.5 336,234.5 336.5,233.4 337,232.3 337.5,230.7 338,230.2 338.5,229.2 339,228.3 339.5,227.3 340,226.3 340.5,223.5 341,223.7 341.5,222.7 342,222.1 342.5,221.6 343,220.5 343.5,219.4 344,217.2 344.5,216.1 345,215.0 345.5,212.1 346,214.0 346.5,212.8 347,210.6 347.5,208.4 348,208.2 348.5,205.5 349,206.2 349.5,204.9 350,201.7 350.5,202.8 351,201.5 351.5,200.3 352,199.0 352.5,197.4 353,196.2 353.5,194.2 354,194.0 354.5,192.8 355,191.7 355.5,190.5 356,189.4 356.5,188.3 357,187.4 357.5,186.3 358,185.2 358.5,182.1 359,182.6 359.5,181.5 360,180.3 360.5,179.2 361,178.3 361.5,175.9 362,174.7 362.5,173.6 363,172.5 363.5,172.1 364,170.9 364.5,168.9 365,167.8 365.5,166.6 366,165.5 366.5,165.8 367,164.2 367.5,163.3 368,162.2 368.5,158.1 369,160.0 369.5,158.6 370,157.5 370.5,156.5 371,155.5 371.5,153.9 372,152.9 372.5,151.9 373,151.5 373.5,150.5 374,149.4 374.5,148.4 375,147.5 375.5,146.4 376,144.7 376.5,144.0 377,143.0 377.5,142.8 378,141.7 378.5,140.7 379,139.6 379.5,137.5 380,136.9 380.5,135.8 381,133.7 381.5,133.1 382,132.0 382.5,131.3 383,130.1 383.5,128.3 384,127.2 384.5,126.7 385,125.6 385.5,124.4 386,121.5 386.5,121.6 387,120.5 387.5,119.4 388,118.2 388.5,115.7 389,116.0 389.5,115.6 390,114.5 390.5,113.4 391,112.3 391.5,110.6 392,109.6 392.5,108.6 393,107.7 393.5,106.8 394,105.2 394.5,104.9 395,104.1 395.5,103.2 396,102.3 396.5,101.6 397,101.1 397.5,100.4 398,100.1 398.5,99.5 399,98.2 399.5,98.6 400,97.8 400.5,97.3 401,96.9 401.5,96.4 402,95.9 402.5,93.8 403,95.3 403.5,94.9 404,94.4 404.5,94.0 405,92.8 405.5,92.4 406,92.0 406.5,92.1 407,91.6 407.5,91.2 408,90.9 408.5,90.6 409,90.2 409.5,89.8 410,87.8 410.5,88.2 411,87.8 411.5,87.4 412,87.0 412.5,85.7 413,86.3 413.5,85.8 414,85.4 414.5,85.1 415,84.7 415.5,84.4 416,82.9 416.5,83.6 417,82.5 417.5,82.9 418,82.4 418.5,82.1 419,81.8 419.5,81.5 420,81.6 420.5,81.3 421,81.0 421.5,80.7 422,80.5 422.5,80.0 423,79.7 423.5,79.3 424,78.2 424.5,78.7 425,78.4 425.5,78.1 426,77.8 426.5,77.5 427,77.3 427.5,76.5 428,76.6 428.5,76.3 429,76.0 429.5,76.0 430,74.9 430.5,75.3 431,75.0 431.5,74.8 432,75.2 432.5,75.0 433,74.8 433.5,74.6 434,74.0 434.5,73.8 435,73.7 435.5,73.5 436,73.4 436.5,73.3 437,73.2 437.5,73.0 438,72.9 438.5,72.7 439,72.5 439.5,72.4 440,72.2 440.5,72.0 441,71.6 441.5,71.5 442,71.3 442.5,71.3 443,70.9 443.5,71.0 444,70.8 444.5,70.6 445,70.4 445.5,70.2 446,70.0 446.5,69.6 447,69.6 447.5,69.4 448,69.2 448.5,69.1 449,68.5 449.5,68.2 450,68.3 450.5,68.2 451,68.1 451.5,67.9 452,67.6 452.5,67.5 453,67.5 453.5,67.3 454,67.2 454.5,67.0 455,66.9 455.5,66.8 456,66.9 456.5,66.7 457,66.6 457.5,65.8 458,66.4 458.5,66.2 459,65.9 459.5,65.8 460,65.7 460.5,65.5 461,65.3 461.5,65.2 462,65.1 462.5,65.0 463,65.4 463.5,65.3 464,65.2 464.5,65.1 465,64.7 465.5,64.6 466,64.5 466.5,64.5 467,64.4 467.5,64.6 468,64.5 468.5,64.4 469,64.0 469.5,63.9 470,63.8 470.5,63.9 471,63.8 471.5,63.7 472,63.8 472.5,63.7 473,63.2 473.5,63.2 474,63.1 474.5,63.4 475,63.3 475.5,62.6 476,62.8 476.5,63.0 477,62.9 477.5,62.8 478,62.7 478.5,62.5 479,62.2 479.5,61.8 480,62.0 480.5,61.9 481,61.6 481.5,61.9 482,61.9 482.5,61.6 483,61.5 483.5,61.4 484,61.2 484.5,61.2 485,61.1 485.5,61.0 486,60.9 486.5,60.8 487,60.7 487.5,60.5 488,60.8 488.5,60.4 489,60.0 489.5,60.3 490,60.2 490.5,60.1 491,60.0 491.5,59.9 492,59.8 492.5,59.9 493,59.8 493.5,59.7 494,59.6 494.5,59.5 495,59.5 495.5,59.4 496,59.4 496.5,58.9 497,58.9 497.5,58.8 498,58.8 498.5,58.7 499,58.9 499.5,58.6 500,59.0 500.5,58.9 501,58.8 501.5,58.5 502,58.4 502.5,58.2 503,58.1 503.5,57.9 504,57.7 504.5,57.8 505,57.7 505.5,57.6 506,57.5 506.5,57.5 507,57.4 507.5,57.5 508,57.8 508.5,57.7 509,57.7 509.5,57.5 510,57.3 510.5,57.3 511,57.2 511.5,57.3 512,57.2 512.5,57.2 513,57.1 513.5,56.8 514,56.9 514.5,56.9 515,56.1 515.5,56.7 516,56.6 516.5,56.8 517,56.7 517.5,56.3 518,55.6 518.5,56.6 519,56.2 519.5,56.2 520,56.2 520.5,56.5 521,56.4 521.5,56.4 522,56.3 522.5,56.0 523,56.0 523.5,55.9 524,55.9 524.5,56.1 525,56.0 525.5,56.0 526,55.9 526.5,55.7 527,55.7 527.5,55.7 528,55.6 528.5,55.6 529,55.2 529.5,55.4 530,55.3 530.5,55.2 531,55.2 531.5,55.1 532,55.2 532.5,54.4 533,55.2 533.5,55.2 534,54.7 534.5,54.7 535,54.6 535.5,54.6 536,54.7 536.5,54.6 537,54.7 537.5,53.7 538,54.6 538.5,54.1 539,54.6 539.5,54.5 540,54.2 540.5,54.1 541,54.4 541.5,54.3 542,54.2 542.5,53.9 543,53.8 543.5,53.8 544,53.8 L544,55.0 543.5,55.0 543,55.1 542.5,55.1 542,55.3 541.5,55.5 541,55.2 540.5,55.2 540,55.3 539.5,55.3 539,56.3 538.5,55.7 538,55.7 537.5,55.5 537,56.6 536.5,56.1 536,55.8 535.5,55.8 535,55.9 534.5,55.8 534,56.0 533.5,56.0 533,56.1 532.5,56.1 532,56.4 531.5,56.9 531,56.3 530.5,56.3 530,56.4 529.5,56.6 529,56.7 528.5,56.7 528,56.8 527.5,56.5 527,56.6 526.5,56.7 526,56.8 525.5,56.8 525,57.8 524.5,57.3 524,57.3 523.5,57.4 523,57.4 522.5,57.4 522,57.4 521.5,58.2 521,57.2 520.5,57.2 520,57.8 519.5,57.8 519,58.3 518.5,57.5 518,57.6 517.5,58.2 517,57.7 516.5,57.7 516,57.7 515.5,57.7 515,57.8 514.5,58.0 514,58.0 513.5,58.1 513,58.1 512.5,58.1 512,58.2 511.5,58.2 511,58.5 510.5,58.3 510,58.3 509.5,58.4 509,58.5 508.5,58.7 508,58.8 507.5,58.7 507,58.8 506.5,58.9 506,58.9 505.5,59.4 505,59.5 504.5,59.5 504,59.3 503.5,59.4 503,59.5 502.5,60.1 502,59.8 501.5,59.9 501,59.8 500.5,59.9 500,60.0 499.5,60.0 499,59.9 498.5,60.0 498,60.1 497.5,60.2 497,60.4 496.5,60.5 496,60.7 495.5,60.8 495,60.9 494.5,60.8 494,60.9 493.5,61.1 493,60.9 492.5,60.9 492,61.0 491.5,62.0 491,61.6 490.5,61.7 490,61.8 489.5,62.7 489,62.0 488.5,61.8 488,61.9 487.5,62.0 487,62.1 486.5,62.5 486,62.6 485.5,62.2 485,62.3 484.5,63.0 484,62.5 483.5,62.6 483,62.7 482.5,62.8 482,63.6 481.5,63.0 481,63.4 480.5,63.4 480,63.5 479.5,63.5 479,64.4 478.5,63.7 478,63.9 477.5,64.0 477,64.1 476.5,64.3 476,64.4 475.5,64.5 475,64.6 474.5,64.7 474,64.7 473.5,64.8 473,64.9 472.5,65.0 472,65.3 471.5,65.5 471,65.3 470.5,65.5 470,65.6 469.5,65.4 469,65.4 468.5,65.5 468,65.5 467.5,65.6 467,65.9 466.5,66.0 466,66.2 465.5,66.3 465,66.3 464.5,66.4 464,66.4 463.5,66.5 463,66.6 462.5,66.9 462,67.0 461.5,67.1 461,66.9 460.5,67.1 460,67.2 459.5,67.3 459,67.5 458.5,67.6 458,67.7 457.5,67.6 457,67.8 456.5,69.0 456,68.1 455.5,68.1 455,69.3 454.5,68.5 454,68.7 453.5,68.8 453,69.1 452.5,69.5 452,69.4 451.5,69.5 451,69.4 450.5,69.5 450,69.8 449.5,70.0 449,70.3 448.5,70.2 448,70.7 447.5,70.9 447,71.1 446.5,71.3 446,71.5 445.5,71.3 445,72.6 444.5,71.8 444,72.0 443.5,72.3 443,72.5 442.5,73.1 442,72.8 441.5,72.7 441,72.9 440.5,73.1 440,73.3 439.5,73.8 439,74.0 438.5,74.2 438,74.0 437.5,74.2 437,74.3 436.5,75.4 436,75.3 435.5,75.4 435,75.6 434.5,75.8 434,75.7 433.5,75.9 433,76.3 432.5,76.5 432,76.7 431.5,76.8 431,77.0 430.5,76.9 430,77.1 429.5,77.4 429,77.6 428.5,78.7 428,78.6 427.5,78.9 427,79.2 426.5,79.1 426,79.6 425.5,79.5 425,79.8 424.5,80.1 424,80.4 423.5,81.1 423,81.4 422.5,81.7 422,81.6 421.5,81.9 421,82.2 420.5,82.5 420,82.8 419.5,83.1 419,83.5 418.5,84.9 418,84.1 417.5,84.6 417,84.9 416.5,85.1 416,85.5 415.5,86.3 415,86.7 414.5,87.3 414,87.8 413.5,88.2 413,88.7 412.5,89.1 412,89.3 411.5,89.7 411,90.2 410.5,91.2 410,91.0 409.5,91.5 409,91.9 408.5,92.4 408,92.9 407.5,93.3 407,93.7 406.5,93.7 406,94.2 405.5,94.6 405,95.3 404.5,96.3 404,96.8 403.5,97.3 403,97.4 402.5,97.9 402,98.3 401.5,98.4 401,98.9 400.5,99.4 400,99.9 399.5,101.1 399,101.6 398.5,102.2 398,102.8 397.5,103.5 397,104.2 396.5,106.3 396,105.3 395.5,106.1 395,107.5 394.5,108.4 394,109.8 393.5,110.3 393,111.3 392.5,112.3 392,113.4 391.5,113.4 391,116.6 390.5,115.6 390,116.8 389.5,117.9 389,121.0 388.5,120.3 388,122.3 387.5,125.2 387,124.6 386.5,125.3 386,126.5 385.5,127.3 385,128.4 384.5,129.6 384,132.9 383.5,132.1 383,133.3 382.5,134.4 382,137.8 381.5,136.6 381,139.3 380.5,139.4 380,141.8 379.5,141.5 379,141.6 378.5,142.7 378,145.8 377.5,146.1 377,147.2 376.5,148.2 376,148.5 375.5,151.0 375,150.4 374.5,151.4 374,153.5 373.5,154.5 373,155.6 372.5,156.6 372,157.0 371.5,158.7 371,159.7 370.5,160.9 370,163.0 369.5,162.9 369,164.4 368.5,163.9 368,165.3 367.5,166.4 367,167.5 366.5,168.7 366,170.0 365.5,172.4 365,172.5 364.5,173.7 364,175.4 363.5,176.6 363,177.7 362.5,178.2 362,179.4 361.5,180.5 361,181.7 360.5,183.3 360,184.0 359.5,185.2 359,185.8 358.5,186.9 358,188.5 357.5,189.7 357,190.8 356.5,191.7 356,192.8 355.5,194.0 355,195.1 354.5,197.2 354,197.4 353.5,198.3 353,199.5 352.5,200.7 352,201.9 351.5,203.8 351,205.1 350.5,206.2 350,207.5 349.5,208.8 349,211.3 348.5,211.1 348,213.3 347.5,214.5 347,216.7 346.5,216.9 346,216.7 345.5,218.9 345,220.0 344.5,220.8 344,224.5 343.5,223.3 343,224.4 342.5,225.4 342,226.6 341.5,227.6 341,228.6 340.5,229.1 340,230.2 339.5,231.2 339,232.2 338.5,233.4 338,236.5 337.5,235.4 337,236.7 336.5,237.8 336,238.9 335.5,240.0 335,239.8 334.5,240.9 334,242.1 333.5,244.8 333,246.0 332.5,247.1 332,248.3 331.5,247.8 331,248.9 330.5,251.1 330,251.6 329.5,252.7 329,253.8 328.5,254.9 328,257.7 327.5,258.6 327,259.8 326.5,259.9 326,261.1 325.5,262.5 325,265.1 324.5,266.5 324,268.0 323.5,269.2 323,270.7 322.5,271.1 322,272.5 321.5,274.0 321,276.4 320.5,277.8 320,279.2 319.5,280.5 319,282.5 318.5,285.3 318,285.0 317.5,285.8 317,286.8 316.5,287.8 316,289.0 315.5,290.0 315,291.1 314.5,291.6 314,291.1 313.5,297.7 313,296.0 312.5,297.1 312,296.5 311.5,297.6 311,298.8 310.5,299.9 310,302.7 309.5,303.8 309,304.9 308.5,306.0 308,307.1 307.5,306.1 307,307.3 306.5,308.4 306,309.5 305.5,310.3 305,311.4 304.5,314.9 304,316.0 303.5,315.9 303,316.9 302.5,318.0 302,319.1 301.5,324.2 301,321.7 300.5,322.9 300,322.6 299.5,323.8 299,326.9 298.5,330.4 298,327.1 297.5,328.5 297,329.9 296.5,333.2 296,334.6 295.5,336.0 295,337.1 294.5,339.5 294,338.1 293.5,339.6 293,341.1 292.5,342.0 292,343.9 291.5,346.1 291,351.2 290.5,354.4 290,358.4 289.5,364.3 289,371.4 288.5,380.5 288,383.2Z" stroke="#3ca010" fill="#3ca010" stroke-width="2.6"/>
<path d="M69,380.8 69.5,372.2 70,372.2 70.5,372.2 71,379.1 71.5,379.1 72,379.1 72.5,379.1 73,379.1 73.5,379.1 74,379.7 74.5,373.0 75,373.0 75.5,373.0 76,380.3 76.5,380.3 77,380.3 77.5,379.3 78,379.3 78.5,379.3 79,379.9 79.5,379.9 80,379.9 80.5,379.9 81,379.9 81.5,379.9 82,379.9 82.5,379.8 83,379.8 83.5,379.8 84,379.8 84.5,379.8 85,380.3 85.5,376.5 86,376.5 86.5,376.5 87,376.5 87.5,380.3 88,378.4 88.5,378.4 89,378.4 89.5,378.4 90,378.4 90.5,378.4 91,378.4 91.5,378.6 92,378.6 92.5,378.6 93,371.9 93.5,371.9 94,381.3 94.5,381.3 95,381.3 95.5,381.3 96,381.3 96.5,378.8 97,373.7 97.5,373.7 98,378.8 98.5,378.8 99,378.8 99.5,378.8 100,379.8 100.5,379.8 101,379.8 101.5,379.8 102,379.8 102.5,379.8 103,381.0 103.5,381.0 104,381.0 104.5,381.0 105,374.0 105.5,374.0 106,374.0 106.5,374.0 107,380.0 107.5,380.9 108,380.9 108.5,380.9 109,379.1 109.5,379.1 110,374.6 110.5,374.6 111,374.6 111.5,374.6 112,379.4 112.5,379.4 113,379.4 113.5,377.0 114,377.0 114.5,377.0 115,377.0 115.5,381.2 116,381.2 116.5,381.2 117,381.2 117.5,381.2 118,381.2 118.5,381.2 119,378.4 119.5,378.4 120,378.4 120.5,378.4 121,378.4 121.5,378.4 122,378.4 122.5,378.4 123,378.0 123.5,378.0 124,378.0 124.5,378.0 125,378.0 125.5,378.0 126,378.0 126.5,377.7 127,377.7 127.5,377.7 128,377.7 128.5,376.0 129,376.0 129.5,376.0 130,377.7 130.5,377.8 131,377.8 131.5,375.9 132,375.9 132.5,375.9 133,375.9 133.5,377.8 134,377.9 134.5,377.9 135,377.9 135.5,378.6 136,378.6 136.5,378.6 137,378.6 137.5,378.6 138,378.6 138.5,378.6 139,381.3 139.5,381.3 140,381.3 140.5,381.3 141,377.2 141.5,377.2 142,377.9 142.5,377.9 143,378.3 143.5,376.5 144,376.5 144.5,376.5 145,378.3 145.5,378.3 146,378.3 146.5,379.9 147,379.9 147.5,379.9 148,379.3 148.5,379.3 149,379.3 149.5,379.3 150,370.3 150.5,370.3 151,370.3 151.5,380.5 152,380.5 152.5,380.5 153,380.5 153.5,380.5 154,380.5 154.5,380.5 155,379.4 155.5,379.4 156,379.4 156.5,379.4 157,379.4 157.5,377.5 158,377.5 158.5,377.5 159,377.5 159.5,377.5 160,377.5 160.5,377.5 161,377.9 161.5,377.9 162,377.9 162.5,377.9 163,377.9 163.5,377.9 164,377.9 164.5,379.8 165,379.8 165.5,379.8 166,379.8 166.5,379.8 167,379.8 167.5,379.8 168,379.8 168.5,379.8 169,379.8 169.5,381.0 170,381.0 170.5,381.0 171,376.5 171.5,376.5 172,380.7 172.5,380.7 173,380.7 173.5,380.7 174,380.7 174.5,380.7 175,380.7 175.5,377.7 176,377.7 176.5,377.7 177,377.7 177.5,377.7 178,377.7 178.5,381.0 179,381.0 179.5,381.0 180,381.0 180.5,377.6 181,377.6 181.5,377.6 182,377.6 182.5,377.6 183,369.3 183.5,369.3 184,369.3 184.5,369.3 185,377.5 185.5,377.5 186,377.5 186.5,377.5 187,377.5 187.5,378.9 188,378.9 188.5,374.2 189,374.2 189.5,374.2 190,378.9 190.5,378.9 191,378.9 191.5,380.3 192,380.3 192.5,380.3 193,380.3 193.5,376.6 194,376.6 194.5,376.6 195,376.6 195.5,380.1 196,380.7 196.5,380.7 197,380.7 197.5,380.7 198,380.7 198.5,378.7 199,377.1 199.5,377.1 200,377.1 200.5,377.1 201,381.3 201.5,376.5 202,376.5 202.5,376.5 203,376.5 203.5,379.5 204,379.5 204.5,379.5 205,379.5 205.5,379.5 206,379.7 206.5,379.7 207,379.7 207.5,379.7 208,379.7 208.5,379.7 209,380.4 209.5,373.1 210,373.1 210.5,373.1 211,380.9 211.5,380.9 212,380.9 212.5,380.9 213,380.9 213.5,380.9 214,380.0 214.5,380.0 215,380.0 215.5,380.0 216,380.0 216.5,375.7 217,375.7 217.5,375.7 218,379.8 218.5,379.8 219,379.8 219.5,379.8 220,379.8 220.5,379.8 221,380.5 221.5,380.5 222,380.5 222.5,380.5 223,380.5 223.5,378.3 224,378.3 224.5,378.3 225,378.3 225.5,378.8 226,378.8 226.5,378.8 227,371.5 227.5,371.5 228,371.5 228.5,379.6 229,378.9 229.5,378.9 230,378.9 230.5,378.9 231,378.9 231.5,378.9 232,379.9 232.5,379.9 233,379.9 233.5,379.9 234,379.9 234.5,379.9 235,379.9 235.5,379.3 236,379.3 236.5,379.3 237,379.3 237.5,379.3 238,371.4 238.5,371.4 239,371.4 239.5,381.3 240,381.3 240.5,381.3 241,374.4 241.5,374.4 242,374.4 242.5,374.4 243,377.6 243.5,377.6 244,377.6 244.5,377.6 245,377.6 245.5,380.9 246,380.9 246.5,380.9 247,380.9 247.5,380.9 248,380.9 248.5,381.3 249,376.0 249.5,376.0 250,376.0 250.5,381.3 251,381.3 251.5,381.3 252,378.0 252.5,378.0 253,378.0 253.5,378.0 254,378.0 254.5,378.0 255,380.1 255.5,380.1 256,377.0 256.5,377.0 257,377.0 257.5,377.0 258,380.1 258.5,380.0 259,380.0 259.5,380.0 260,380.0 260.5,369.5 261,369.5 261.5,380.0 262,380.0 262.5,381.3 263,381.3 263.5,381.3 264,381.3 264.5,381.3 265,381.3 265.5,381.3 266,380.8 266.5,380.8 267,380.8 267.5,380.8 268,380.8 268.5,379.0 269,379.0 269.5,379.0 270,379.0 270.5,377.0 271,377.0 271.5,377.0 272,379.0 272.5,379.0 273,372.3 273.5,372.3 274,372.3 274.5,379.0 275,378.2 275.5,378.2 276,378.2 276.5,378.2 277,378.2 277.5,378.2 278,378.2 278.5,378.4 279,378.4 279.5,378.4 280,378.4 280.5,378.4 281,380.6 281.5,380.6 282,380.6 282.5,381.1 283,381.1 283.5,381.1 284,381.1 284.5,381.1 285,374.1 285.5,374.1 286,378.7 286.5,378.7 287,378.2 287.5,378.1 288,377.9 288.5,378.2 289,377.4 289.5,375.7 L289.5,389.2 289,391.0 288.5,391.4 288,394.0 287.5,393.7 287,393.5 286.5,388.7 286,388.7 285.5,388.7 285,388.8 284.5,388.8 284,388.8 283.5,388.8 283,388.8 282.5,388.8 282,388.8 281.5,388.8 281,399.1 280.5,399.1 280,399.1 279.5,389.0 279,389.0 278.5,393.1 278,393.1 277.5,393.1 277,391.4 276.5,390.3 276,390.3 275.5,390.3 275,390.3 274.5,390.3 274,390.3 273.5,390.1 273,397.1 272.5,397.1 272,397.1 271.5,397.1 271,390.1 270.5,392.4 270,392.4 269.5,392.4 269,392.4 268.5,392.4 268,392.4 267.5,392.4 267,388.9 266.5,388.9 266,388.9 265.5,388.9 265,394.1 264.5,394.1 264,392.4 263.5,392.4 263,392.4 262.5,392.4 262,392.4 261.5,392.4 261,392.4 260.5,392.4 260,391.5 259.5,391.5 259,391.5 258.5,391.5 258,389.6 257.5,389.6 257,389.6 256.5,389.6 256,390.8 255.5,390.8 255,390.8 254.5,398.4 254,398.4 253.5,398.4 253,391.5 252.5,391.5 252,391.5 251.5,391.5 251,392.5 250.5,392.5 250,392.5 249.5,392.5 249,391.6 248.5,391.6 248,391.6 247.5,391.6 247,391.6 246.5,391.6 246,394.0 245.5,394.0 245,394.0 244.5,392.0 244,392.0 243.5,390.9 243,390.9 242.5,390.9 242,390.9 241.5,390.9 241,390.9 240.5,390.9 240,390.2 239.5,390.2 239,390.2 238.5,390.2 238,390.2 237.5,390.2 237,392.4 236.5,392.4 236,392.4 235.5,388.7 235,388.7 234.5,388.7 234,388.7 233.5,391.2 233,391.2 232.5,391.2 232,391.2 231.5,391.2 231,391.2 230.5,388.6 230,388.6 229.5,388.6 229,388.6 228.5,391.0 228,391.0 227.5,391.0 227,391.0 226.5,391.0 226,391.0 225.5,390.0 225,390.0 224.5,390.0 224,388.8 223.5,388.8 223,388.8 222.5,388.8 222,388.8 221.5,389.2 221,389.2 220.5,389.2 220,389.2 219.5,389.7 219,389.7 218.5,389.7 218,389.7 217.5,389.7 217,389.7 216.5,389.7 216,389.7 215.5,392.1 215,392.1 214.5,392.1 214,392.1 213.5,392.1 213,388.8 212.5,388.8 212,388.8 211.5,388.8 211,397.8 210.5,397.8 210,397.8 209.5,397.8 209,391.5 208.5,391.5 208,391.5 207.5,391.5 207,391.5 206.5,396.5 206,396.5 205.5,390.8 205,390.8 204.5,390.8 204,390.8 203.5,390.8 203,392.2 202.5,392.2 202,392.2 201.5,389.8 201,389.8 200.5,389.8 200,389.8 199.5,389.8 199,389.8 198.5,391.9 198,391.9 197.5,391.9 197,391.9 196.5,391.9 196,391.9 195.5,392.2 195,392.2 194.5,392.2 194,392.2 193.5,392.2 193,392.2 192.5,391.0 192,391.0 191.5,391.0 191,391.5 190.5,391.5 190,391.5 189.5,391.5 189,391.5 188.5,391.5 188,391.5 187.5,389.6 187,389.6 186.5,389.6 186,389.6 185.5,389.6 185,389.6 184.5,389.5 184,389.5 183.5,389.5 183,389.5 182.5,389.5 182,389.5 181.5,389.5 181,389.7 180.5,389.7 180,389.7 179.5,389.7 179,389.8 178.5,389.8 178,389.8 177.5,389.8 177,389.8 176.5,390.9 176,390.9 175.5,390.9 175,390.9 174.5,390.9 174,393.0 173.5,393.0 173,393.0 172.5,391.7 172,391.7 171.5,391.7 171,391.7 170.5,391.2 170,391.2 169.5,391.2 169,391.2 168.5,391.2 168,389.0 167.5,389.0 167,393.1 166.5,393.1 166,393.1 165.5,390.2 165,390.2 164.5,390.2 164,389.9 163.5,389.9 163,389.9 162.5,390.7 162,390.7 161.5,394.1 161,394.1 160.5,394.1 160,390.7 159.5,390.5 159,390.5 158.5,390.5 158,390.5 157.5,390.5 157,390.5 156.5,394.3 156,394.3 155.5,391.3 155,391.3 154.5,391.9 154,391.9 153.5,391.9 153,391.9 152.5,391.9 152,391.9 151.5,391.9 151,391.9 150.5,389.5 150,389.5 149.5,389.5 149,389.5 148.5,389.5 148,389.5 147.5,389.5 147,389.5 146.5,389.4 146,389.4 145.5,389.4 145,389.4 144.5,390.0 144,390.0 143.5,390.0 143,390.0 142.5,390.0 142,390.0 141.5,390.0 141,390.0 140.5,389.9 140,389.9 139.5,389.9 139,397.0 138.5,397.0 138,397.0 137.5,389.9 137,389.9 136.5,391.7 136,391.7 135.5,391.7 135,391.7 134.5,391.1 134,391.1 133.5,391.1 133,391.1 132.5,391.1 132,389.2 131.5,389.2 131,389.2 130.5,391.9 130,391.9 129.5,391.9 129,391.9 128.5,391.2 128,391.2 127.5,391.2 127,391.2 126.5,391.2 126,391.2 125.5,391.2 125,389.9 124.5,389.9 124,389.9 123.5,389.9 123,389.9 122.5,389.9 122,389.9 121.5,389.9 121,390.3 120.5,390.3 120,390.3 119.5,390.3 119,388.7 118.5,388.7 118,388.7 117.5,388.7 117,388.7 116.5,388.7 116,388.7 115.5,388.7 115,389.7 114.5,389.7 114,389.7 113.5,391.9 113,391.9 112.5,391.9 112,391.9 111.5,391.9 111,391.9 110.5,391.9 110,388.6 109.5,388.6 109,396.7 108.5,396.7 108,396.7 107.5,396.7 107,389.3 106.5,389.3 106,389.3 105.5,389.3 105,389.3 104.5,389.3 104,389.3 103.5,389.3 103,389.5 102.5,389.5 102,389.5 101.5,389.5 101,389.5 100.5,389.5 100,389.5 99.5,389.5 99,392.3 98.5,392.3 98,392.3 97.5,392.3 97,392.3 96.5,392.3 96,392.3 95.5,392.3 95,390.3 94.5,390.3 94,399.0 93.5,399.0 93,399.0 92.5,392.3 92,392.3 91.5,392.3 91,392.3 90.5,392.3 90,392.3 89.5,392.3 89,389.0 88.5,389.0 88,389.0 87.5,389.0 87,390.8 86.5,390.8 86,390.8 85.5,390.8 85,390.8 84.5,390.8 84,390.8 83.5,391.4 83,391.4 82.5,391.4 82,391.8 81.5,391.8 81,391.8 80.5,391.8 80,391.8 79.5,391.8 79,393.6 78.5,393.6 78,393.6 77.5,393.6 77,390.3 76.5,390.3 76,390.3 75.5,390.3 75,390.3 74.5,390.9 74,390.9 73.5,390.9 73,390.9 72.5,390.9 72,390.9 71.5,390.9 71,390.6 70.5,390.6 70,390.6 69.5,390.6 69,390.6Z" stroke="#0810c8" fill="#0810c8" stroke-width="1"/>
<path d="M288.5,378.0 289,373.8 289.5,375.5 290,373.9 290.5,375.2 291,373.7 291.5,372.3 292,371.0 292.5,367.7 293,363.1 293.5,365.6 294,364.3 294.5,363.0 295,361.6 295.5,360.5 296,359.1 296.5,359.8 297,358.4 297.5,353.7 298,356.1 298.5,354.8 299,353.5 299.5,351.5 300,350.3 300.5,349.1 301,348.0 301.5,346.8 302,345.6 302.5,344.2 303,340.9 303.5,334.0 304,338.6 304.5,337.4 305,337.9 305.5,336.8 306,335.8 306.5,334.8 307,332.9 307.5,331.9 308,331.0 308.5,328.5 309,327.5 309.5,328.4 310,327.3 310.5,326.3 311,325.1 311.5,324.0 312,322.1 312.5,320.8 313,319.4 313.5,318.0 314,316.0 314.5,314.5 315,313.1 315.5,312.0 316,311.4 316.5,309.9 317,308.4 317.5,306.2 318,304.6 318.5,302.9 319,301.2 319.5,300.2 320,297.5 320.5,295.5 321,293.6 321.5,291.6 322,288.9 322.5,285.4 323,286.1 323.5,284.1 324,282.0 324.5,278.8 325,276.7 325.5,274.5 326,272.3 326.5,271.4 327,269.2 327.5,266.9 328,263.5 328.5,261.3 329,259.0 329.5,256.9 330,255.9 330.5,253.8 331,251.7 331.5,249.7 332,247.6 332.5,245.0 333,242.7 333.5,240.4 334,236.7 334.5,234.1 335,233.3 335.5,230.7 336,228.1 336.5,225.5 337,222.6 337.5,220.2 338,218.4 338.5,213.9 339,213.3 339.5,211.2 340,209.2 340.5,207.2 341,204.7 341.5,202.7 342,201.3 342.5,198.3 343,197.7 343.5,195.8 344,194.1 344.5,192.3 345,190.7 345.5,189.1 346,187.6 346.5,186.9 347,185.3 347.5,183.7 348,182.2 348.5,180.7 349,179.1 349.5,177.5 350,175.9 350.5,174.2 351,171.3 351.5,168.9 352,167.8 352.5,166.0 353,164.8 353.5,163.1 354,161.5 354.5,159.9 355,158.5 355.5,157.0 356,154.5 356.5,153.6 357,152.1 357.5,150.7 358,149.2 358.5,146.3 359,146.1 359.5,144.5 360,142.9 360.5,141.3 361,140.1 361.5,138.5 362,136.9 362.5,135.3 363,133.4 363.5,132.4 364,130.9 364.5,129.3 365,127.3 365.5,125.6 366,124.5 366.5,123.1 367,121.8 367.5,120.5 368,119.1 368.5,117.8 369,116.2 369.5,114.9 370,113.5 370.5,112.2 371,110.9 371.5,109.2 372,108.9 372.5,107.6 373,106.4 373.5,105.2 374,103.8 374.5,102.6 375,101.5 375.5,100.4 376,99.6 376.5,98.6 377,97.5 377.5,96.5 378,95.8 378.5,94.8 379,93.8 379.5,92.3 380,91.4 380.5,90.4 381,89.4 381.5,88.4 382,87.8 382.5,86.7 383,85.7 383.5,83.7 384,83.1 384.5,81.9 385,80.7 385.5,79.5 386,78.3 386.5,76.7 387,75.8 387.5,74.7 388,73.8 388.5,72.7 389,71.2 389.5,70.2 390,69.2 390.5,68.3 391,67.4 391.5,66.6 392,65.7 392.5,64.9 393,64.5 393.5,63.7 394,63.0 394.5,61.9 395,61.1 395.5,60.4 396,59.7 396.5,59.0 397,58.3 397.5,57.7 398,57.0 398.5,56.4 399,55.8 399.5,55.3 400,54.8 400.5,54.3 401,53.1 401.5,53.3 402,52.8 402.5,52.6 403,52.1 403.5,51.7 404,51.3 404.5,50.6 405,50.2 405.5,49.8 406,49.3 406.5,49.0 407,48.6 407.5,48.2 408,48.1 408.5,47.7 409,47.4 409.5,47.0 410,46.7 410.5,46.3 411,46.0 411.5,45.8 412,45.3 412.5,45.2 413,44.9 413.5,44.6 414,44.3 414.5,44.0 415,43.5 415.5,43.7 416,43.4 416.5,43.2 417,42.9 417.5,42.6 418,42.4 418.5,42.1 419,41.7 419.5,41.8 420,41.6 420.5,41.4 421,41.1 421.5,40.7 422,40.7 422.5,40.4 423,40.1 423.5,39.9 424,39.2 424.5,39.5 425,38.8 425.5,39.1 426,39.0 426.5,38.3 427,38.4 427.5,38.2 428,38.2 428.5,38.0 429,37.8 429.5,37.5 430,37.4 430.5,37.2 431,37.0 431.5,36.9 432,36.6 432.5,36.5 433,36.3 433.5,36.2 434,36.0 434.5,35.9 435,35.8 435.5,35.8 436,35.1 436.5,35.7 437,35.6 437.5,35.5 438,35.4 438.5,35.0 439,34.9 439.5,34.8 440,34.6 440.5,34.7 441,34.6 441.5,34.7 442,34.6 442.5,34.4 443,34.3 443.5,34.2 444,34.1 444.5,33.9 445,34.0 445.5,33.9 446,33.8 446.5,33.7 447,33.4 447.5,33.3 448,33.4 448.5,33.3 449,33.2 449.5,33.1 450,32.8 450.5,32.7 451,32.6 451.5,32.6 452,32.5 452.5,32.5 453,32.6 453.5,32.5 454,32.2 454.5,32.1 455,32.1 455.5,32.0 456,31.9 456.5,31.9 457,32.0 457.5,32.0 458,31.9 458.5,31.5 459,31.7 459.5,31.5 460,31.4 460.5,31.4 461,31.3 461.5,31.4 462,31.3 462.5,31.2 463,31.1 463.5,31.1 464,31.3 464.5,31.2 465,30.8 465.5,31.0 466,31.0 466.5,30.4 467,30.8 467.5,30.8 468,30.7 468.5,30.5 469,30.6 469.5,30.6 470,30.7 470.5,30.1 471,30.7 471.5,30.5 472,30.4 472.5,30.4 473,30.4 473.5,30.6 474,30.5 474.5,30.5 475,30.5 475.5,30.4 476,30.3 476.5,30.3 477,30.3 477.5,30.2 478,30.2 478.5,30.2 479,30.1 479.5,30.0 480,30.0 480.5,30.0 481,29.9 481.5,29.9 482,29.9 482.5,29.9 483,29.5 483.5,29.9 484,29.9 484.5,29.9 485,29.9 485.5,29.9 486,29.6 486.5,29.6 487,29.8 487.5,29.8 488,29.8 488.5,29.6 489,29.6 489.5,29.5 490,29.5 490.5,29.5 491,29.5 491.5,29.4 492,29.4 492.5,29.4 493,29.4 493.5,29.5 494,29.4 494.5,29.4 495,29.4 495.5,29.4 496,29.4 496.5,29.1 497,29.3 497.5,29.3 498,29.0 498.5,29.0 499,29.1 499.5,29.1 500,29.1 500.5,29.1 501,28.8 501.5,28.9 502,28.9 502.5,28.8 503,28.4 503.5,28.8 504,28.8 504.5,28.8 505,29.0 505.5,28.7 506,28.5 506.5,28.7 507,28.7 507.5,28.6 508,28.9 508.5,28.9 509,28.9 509.5,28.8 510,28.7 510.5,28.4 511,28.7 511.5,28.6 512,28.6 512.5,28.6 513,28.6 513.5,28.6 514,28.4 514.5,28.6 515,28.6 515.5,28.6 516,28.6 516.5,28.6 517,28.6 517.5,28.6 518,28.6 518.5,28.6 519,28.3 519.5,28.5 520,28.1 520.5,28.5 521,28.3 521.5,28.2 522,28.2 522.5,28.5 523,28.5 523.5,28.4 524,28.1 524.5,28.3 525,28.3 525.5,28.2 526,28.2 526.5,28.2 527,28.4 527.5,28.3 528,28.3 528.5,28.3 529,28.0 529.5,28.1 530,28.1 530.5,27.9 531,28.1 531.5,28.0 532,28.1 532.5,28.1 533,28.0 533.5,28.0 534,28.2 534.5,28.2 535,28.1 535.5,28.1 536,28.1 536.5,28.1 537,28.0 537.5,28.0 538,28.0 538.5,28.0 539,28.0 539.5,27.9 540,28.1 540.5,28.1 541,28.0 541.5,28.0 542,27.8 542.5,27.8 543,27.6 543.5,27.8 544,27.9 L544,28.7 543.5,28.7 543,28.7 542.5,28.6 542,28.6 541.5,28.7 541,29.1 540.5,28.8 540,28.8 539.5,29.0 539,28.8 538.5,28.9 538,28.7 537.5,28.7 537,29.0 536.5,28.7 536,28.7 535.5,28.7 535,28.7 534.5,28.7 534,29.0 533.5,28.7 533,28.7 532.5,29.0 532,29.0 531.5,29.0 531,28.9 530.5,29.0 530,29.0 529.5,29.0 529,28.8 528.5,29.3 528,28.8 527.5,28.8 527,29.0 526.5,28.9 526,28.9 525.5,28.9 525,29.0 524.5,28.9 524,28.9 523.5,29.2 523,29.0 522.5,29.0 522,29.2 521.5,29.2 521,29.2 520.5,29.2 520,29.1 519.5,29.1 519,29.1 518.5,29.2 518,29.2 517.5,29.2 517,29.4 516.5,29.1 516,29.1 515.5,29.2 515,29.3 514.5,29.4 514,29.4 513.5,29.4 513,29.2 512.5,29.3 512,29.3 511.5,29.3 511,29.6 510.5,29.5 510,29.5 509.5,29.5 509,29.5 508.5,29.5 508,29.3 507.5,29.4 507,29.4 506.5,29.5 506,29.8 505.5,29.5 505,29.5 504.5,29.5 504,29.6 503.5,29.6 503,29.6 502.5,29.8 502,29.8 501.5,29.7 501,30.0 500.5,29.9 500,30.0 499.5,29.8 499,29.9 498.5,29.9 498,29.9 497.5,30.1 497,30.0 496.5,30.0 496,30.1 495.5,30.1 495,29.9 494.5,30.0 494,30.0 493.5,30.0 493,30.1 492.5,30.2 492,30.1 491.5,30.1 491,30.2 490.5,30.3 490,30.4 489.5,30.4 489,30.4 488.5,30.4 488,30.4 487.5,30.4 487,30.5 486.5,30.5 486,30.5 485.5,31.0 485,30.6 484.5,30.7 484,30.7 483.5,30.7 483,30.7 482.5,30.6 482,31.0 481.5,30.7 481,30.7 480.5,30.8 480,30.8 479.5,30.8 479,30.9 478.5,31.2 478,31.0 477.5,31.2 477,31.0 476.5,31.0 476,31.1 475.5,31.0 475,31.4 474.5,31.0 474,31.2 473.5,31.2 473,31.3 472.5,31.4 472,31.4 471.5,31.5 471,31.4 470.5,31.5 470,31.5 469.5,31.5 469,31.4 468.5,31.5 468,31.5 467.5,31.6 467,31.6 466.5,31.7 466,31.7 465.5,31.7 465,31.7 464.5,31.8 464,31.8 463.5,31.9 463,31.9 462.5,32.3 462,32.2 461.5,32.2 461,32.3 460.5,32.6 460,32.4 459.5,32.5 459,32.5 458.5,32.4 458,32.5 457.5,32.5 457,32.6 456.5,32.6 456,32.7 455.5,32.7 455,32.8 454.5,33.0 454,33.1 453.5,33.1 453,33.2 452.5,33.3 452,33.3 451.5,33.4 451,33.5 450.5,33.5 450,33.5 449.5,33.6 449,33.9 448.5,34.1 448,34.2 447.5,34.2 447,34.3 446.5,34.4 446,34.5 445.5,34.6 445,34.7 444.5,34.8 444,34.9 443.5,35.0 443,35.1 442.5,35.5 442,35.3 441.5,35.4 441,35.3 440.5,35.4 440,35.6 439.5,35.7 439,35.8 438.5,36.0 438,36.1 437.5,36.2 437,36.4 436.5,36.5 436,36.6 435.5,36.7 435,36.8 434.5,36.9 434,37.1 433.5,37.2 433,37.4 432.5,37.4 432,37.5 431.5,37.7 431,38.4 430.5,38.1 430,38.3 429.5,38.4 429,38.6 428.5,38.8 428,38.8 427.5,39.0 427,39.2 426.5,39.5 426,39.7 425.5,39.9 425,40.2 424.5,40.4 424,41.1 423.5,40.5 423,41.2 422.5,41.3 422,41.2 421.5,41.5 421,41.7 420.5,41.9 420,42.3 419.5,42.5 419,42.8 418.5,43.1 418,43.4 417.5,43.6 417,43.7 416.5,44.2 416,44.5 415.5,44.5 415,44.7 414.5,45.0 414,45.3 413.5,45.8 413,46.1 412.5,46.4 412,46.7 411.5,47.0 411,47.8 410.5,47.6 410,48.0 409.5,48.5 409,48.5 408.5,49.1 408,49.3 407.5,49.6 407,50.0 406.5,50.2 406,50.8 405.5,51.8 405,51.6 404.5,52.0 404,52.5 403.5,52.7 403,53.0 402.5,53.5 402,53.9 401.5,54.5 401,55.4 400.5,55.3 400,55.8 399.5,56.6 399,57.6 398.5,57.6 398,58.2 397.5,58.9 397,59.8 396.5,60.5 396,61.2 395.5,62.0 395,62.8 394.5,63.5 394,64.3 393.5,64.9 393,65.8 392.5,66.3 392,67.2 391.5,68.0 391,69.7 390.5,70.1 390,71.0 389.5,72.1 389,72.6 388.5,73.7 388,74.8 387.5,76.3 387,77.5 386.5,78.4 386,79.7 385.5,81.6 385,82.2 384.5,83.9 384,85.2 383.5,85.8 383,86.9 382.5,88.3 382,89.6 381.5,90.3 381,91.9 380.5,92.4 380,93.3 379.5,94.3 379,94.8 378.5,95.8 378,96.8 377.5,97.9 377,98.9 376.5,100.0 376,101.1 375.5,102.1 375,103.0 374.5,104.2 374,105.3 373.5,106.5 373,107.8 372.5,109.1 372,110.3 371.5,111.6 371,113.7 370.5,114.2 370,115.6 369.5,116.9 369,118.5 368.5,119.8 368,121.2 367.5,122.5 367,123.5 366.5,125.2 366,126.7 365.5,128.3 365,129.8 364.5,131.3 364,132.3 363.5,134.0 363,135.6 362.5,137.2 362,138.9 361.5,140.5 361,141.7 360.5,143.3 360,144.9 359.5,147.3 359,148.9 358.5,150.5 358,151.7 357.5,153.0 357,154.5 356.5,156.9 356,158.4 355.5,160.0 355,161.0 354.5,162.6 354,163.6 353.5,165.3 353,167.7 352.5,169.5 352,171.3 351.5,173.1 351,175.2 350.5,177.0 350,179.0 349.5,180.8 349,181.8 348.5,183.8 348,186.9 347.5,187.1 347,188.0 346.5,189.6 346,191.3 345.5,192.6 345,194.2 344.5,195.8 344,197.5 343.5,200.7 343,202.5 342.5,204.3 342,206.2 341.5,207.4 341,209.4 340.5,211.4 340,213.4 339.5,215.5 339,217.9 338.5,220.1 338,222.4 337.5,223.6 337,226.0 336.5,229.0 336,231.6 335.5,234.8 335,237.5 334.5,240.2 334,242.8 333.5,244.2 333,246.7 332.5,249.0 332,251.6 331.5,256.9 331,256.6 330.5,258.7 330,261.2 329.5,263.3 329,265.6 328.5,267.6 328,269.0 327.5,271.3 327,273.7 326.5,278.0 326,277.7 325.5,282.9 325,282.2 324.5,285.6 324,287.7 323.5,289.8 323,291.3 322.5,293.3 322,296.6 321.5,298.6 321,302.6 320.5,302.7 320,304.6 319.5,306.7 319,307.7 318.5,309.6 318,310.4 317.5,313.6 317,315.3 316.5,316.9 316,318.6 315.5,319.4 315,321.0 314.5,322.1 314,323.7 313.5,325.2 313,326.7 312.5,328.8 312,330.3 311.5,331.8 311,333.2 310.5,334.5 310,335.8 309.5,336.0 309,337.1 308.5,337.8 308,338.8 307.5,344.8 307,341.2 306.5,347.1 306,343.2 305.5,343.7 305,348.4 304.5,349.5 304,350.7 303.5,351.9 303,352.0 302.5,353.2 302,354.4 301.5,355.6 301,357.4 300.5,358.6 300,359.8 299.5,361.4 299,362.7 298.5,363.9 298,365.4 297.5,366.7 297,365.7 296.5,367.1 296,370.7 295.5,372.0 295,373.4 294.5,374.1 294,375.4 293.5,376.8 293,383.3 292.5,377.4 292,378.7 291.5,380.2 291,381.6 290.5,383.4 290,385.1 289.5,386.8 289,390.3 288.5,390.8Z" stroke="#0810c8" fill="#0810c8" stroke-width="2.8"/>
<rect x="68.4" y="382.5" width="220.6" height="9" fill="#0810c8"/>
<path d="M69.40,382.9 70.43,382.8 71.46,382.7 72.49,382.6 73.51,382.5 74.54,382.4 75.57,382.3 76.60,382.2 M86.80,381.1 87.80,380.9 88.80,380.8 89.80,380.7 90.80,380.5 91.80,380.4 92.80,380.2 93.80,380.1 94.80,379.9 M102.10,378.7 103.10,378.5 104.10,378.3 105.10,378.1 106.10,377.9 107.10,377.7 108.10,377.4 109.10,377.2 110.10,377.0 M118.10,375.0 119.14,374.8 120.19,374.5 121.23,374.1 122.27,373.8 123.31,373.5 124.36,373.1 125.40,372.8 M132.60,369.9 133.70,369.4 134.80,368.8 135.90,368.2 137,367.6 138.10,367.0 139.20,366.4 M146.30,362.1 147.33,361.4 148.36,360.8 149.39,360.1 150.41,359.4 151.44,358.7 152.47,358.0 153.50,357.3 M161.10,351.7 162.16,350.9 163.21,350.0 164.27,349.2 165.32,348.3 166.38,347.4 167.43,346.5 168.49,345.5 169.54,344.5 170.60,343.4 M176.30,336.7 177.40,335.3 178.50,334.0 179.60,332.7 180.70,331.4 181.80,330.1 182.90,328.7 M187.70,322.3 188.76,320.8 189.82,319.2 190.88,317.7 191.94,316.1 193,314.5 M197.10,308.1 198.30,306.1 199.50,304.1 200.70,302.1 201.90,300.1 M205.90,292.7 207.17,290.3 208.43,287.8 209.70,285.4 M213.40,278.3 214.63,275.8 215.87,273.4 217.10,270.9 M220.80,263.4 221.85,261.2 222.90,259.1 223.95,256.9 225,254.7 M228.90,246.4 229.95,244.1 231,241.8 232.05,239.5 233.10,237.1 M236.20,229.9 237.25,227.5 238.30,225.1 239.35,222.8 240.40,220.5 M243.60,213.4 244.83,210.6 246.07,207.8 247.30,205.0 M251,196.5 252.23,193.7 253.47,190.9 254.70,188.1 M258.40,179.8 259.43,177.5 260.47,175.2 261.50,172.8 262.53,170.5 263.57,168.1 264.60,165.7 M267.50,158.7 268.80,155.6 270.10,152.6 271.40,149.6 M274.90,141.9 276.20,139.0 277.50,136.2 278.80,133.4 M282.20,126.0 283.30,123.6 284.40,121.3 285.50,119.0 286.60,116.6 M289.90,109.6 291.13,107.1 292.37,104.7 293.60,102.4 M297.80,94.9 299.07,92.7 300.33,90.6 301.60,88.5 M306.20,81.3 307.22,79.8 308.24,78.3 309.26,76.7 310.28,75.2 311.30,73.8 M316.30,67.1 317.33,65.9 318.37,64.7 319.40,63.5 320.43,62.4 321.47,61.3 322.50,60.2 M327.90,54.7 328.94,53.8 329.99,52.8 331.03,51.9 332.07,51.0 333.11,50.2 334.16,49.3 335.20,48.5 M341.90,43.9 343.01,43.2 344.13,42.5 345.24,41.8 346.36,41.1 347.47,40.4 348.59,39.7 349.70,39.1 M356,35.7 357.02,35.2 358.05,34.7 359.07,34.3 360.10,33.8 361.12,33.3 362.15,32.8 363.18,32.4 364.20,31.9 M370.90,29.1 371.90,28.7 372.90,28.4 373.90,28.0 374.90,27.7 375.90,27.4 376.90,27.0 377.90,26.7 378.90,26.4 379.90,26.1 M384.30,24.6 385.32,24.3 386.33,24.0 387.35,23.7 388.37,23.4 389.38,23.2 390.40,22.9" stroke="#111" stroke-width="1.9" stroke-linecap="butt"/>
</g>
<line x1="387.5" y1="8.5" x2="387.5" y2="389.9" stroke="#777" stroke-width="1.2" stroke-dasharray="2 2.5"/>
<line x1="61" y1="383.3" x2="68.4" y2="383.3" stroke="#111" stroke-width="1.6"/>
<line x1="64.9" y1="346.1" x2="68.4" y2="346.1" stroke="#111" stroke-width="1.45"/>
<line x1="61" y1="308.9" x2="68.4" y2="308.9" stroke="#111" stroke-width="1.6"/>
<line x1="64.9" y1="271.8" x2="68.4" y2="271.8" stroke="#111" stroke-width="1.45"/>
<line x1="61" y1="234.6" x2="68.4" y2="234.6" stroke="#111" stroke-width="1.6"/>
<line x1="64.9" y1="197.4" x2="68.4" y2="197.4" stroke="#111" stroke-width="1.45"/>
<line x1="61" y1="160.2" x2="68.4" y2="160.2" stroke="#111" stroke-width="1.6"/>
<line x1="64.9" y1="123.0" x2="68.4" y2="123.0" stroke="#111" stroke-width="1.45"/>
<line x1="61" y1="85.9" x2="68.4" y2="85.9" stroke="#111" stroke-width="1.6"/>
<line x1="64.9" y1="48.7" x2="68.4" y2="48.7" stroke="#111" stroke-width="1.45"/>
<line x1="61" y1="11.5" x2="68.4" y2="11.5" stroke="#111" stroke-width="1.6"/>
<line x1="72.5" y1="393" x2="72.5" y2="396.8" stroke="#6a6a6a" stroke-width="1.3"/>
<line x1="77.5" y1="393" x2="77.5" y2="396.8" stroke="#6a6a6a" stroke-width="1.3"/>
<line x1="82.6" y1="392.6" x2="82.6" y2="401.9" stroke="#111" stroke-width="1.6"/>
<line x1="87.7" y1="393" x2="87.7" y2="396.8" stroke="#6a6a6a" stroke-width="1.3"/>
<line x1="92.7" y1="393" x2="92.7" y2="396.8" stroke="#6a6a6a" stroke-width="1.3"/>
<line x1="97.8" y1="393" x2="97.8" y2="396.8" stroke="#6a6a6a" stroke-width="1.3"/>
<line x1="102.9" y1="393" x2="102.9" y2="396.8" stroke="#6a6a6a" stroke-width="1.3"/>
<line x1="108.0" y1="393" x2="108.0" y2="396.8" stroke="#6a6a6a" stroke-width="1.3"/>
<line x1="113.0" y1="393" x2="113.0" y2="396.8" stroke="#6a6a6a" stroke-width="1.3"/>
<line x1="118.1" y1="393" x2="118.1" y2="396.8" stroke="#6a6a6a" stroke-width="1.3"/>
<line x1="123.2" y1="393" x2="123.2" y2="396.8" stroke="#6a6a6a" stroke-width="1.3"/>
<line x1="128.3" y1="393" x2="128.3" y2="396.8" stroke="#6a6a6a" stroke-width="1.3"/>
<line x1="133.3" y1="392.6" x2="133.3" y2="401.9" stroke="#111" stroke-width="1.6"/>
<line x1="138.4" y1="393" x2="138.4" y2="396.8" stroke="#6a6a6a" stroke-width="1.3"/>
<line x1="143.5" y1="393" x2="143.5" y2="396.8" stroke="#6a6a6a" stroke-width="1.3"/>
<line x1="148.5" y1="393" x2="148.5" y2="396.8" stroke="#6a6a6a" stroke-width="1.3"/>
<line x1="153.6" y1="393" x2="153.6" y2="396.8" stroke="#6a6a6a" stroke-width="1.3"/>
<line x1="158.7" y1="393" x2="158.7" y2="396.8" stroke="#6a6a6a" stroke-width="1.3"/>
<line x1="163.8" y1="393" x2="163.8" y2="396.8" stroke="#6a6a6a" stroke-width="1.3"/>
<line x1="168.8" y1="393" x2="168.8" y2="396.8" stroke="#6a6a6a" stroke-width="1.3"/>
<line x1="173.9" y1="393" x2="173.9" y2="396.8" stroke="#6a6a6a" stroke-width="1.3"/>
<line x1="179.0" y1="393" x2="179.0" y2="396.8" stroke="#6a6a6a" stroke-width="1.3"/>
<line x1="184.1" y1="392.6" x2="184.1" y2="401.9" stroke="#111" stroke-width="1.6"/>
<line x1="189.1" y1="393" x2="189.1" y2="396.8" stroke="#6a6a6a" stroke-width="1.3"/>
<line x1="194.2" y1="393" x2="194.2" y2="396.8" stroke="#6a6a6a" stroke-width="1.3"/>
<line x1="199.3" y1="393" x2="199.3" y2="396.8" stroke="#6a6a6a" stroke-width="1.3"/>
<line x1="204.4" y1="393" x2="204.4" y2="396.8" stroke="#6a6a6a" stroke-width="1.3"/>
<line x1="209.4" y1="393" x2="209.4" y2="396.8" stroke="#6a6a6a" stroke-width="1.3"/>
<line x1="214.5" y1="393" x2="214.5" y2="396.8" stroke="#6a6a6a" stroke-width="1.3"/>
<line x1="219.6" y1="393" x2="219.6" y2="396.8" stroke="#6a6a6a" stroke-width="1.3"/>
<line x1="224.6" y1="393" x2="224.6" y2="396.8" stroke="#6a6a6a" stroke-width="1.3"/>
<line x1="229.7" y1="393" x2="229.7" y2="396.8" stroke="#6a6a6a" stroke-width="1.3"/>
<line x1="234.8" y1="392.6" x2="234.8" y2="401.9" stroke="#111" stroke-width="1.6"/>
<line x1="239.9" y1="393" x2="239.9" y2="396.8" stroke="#6a6a6a" stroke-width="1.3"/>
<line x1="244.9" y1="393" x2="244.9" y2="396.8" stroke="#6a6a6a" stroke-width="1.3"/>
<line x1="250.0" y1="393" x2="250.0" y2="396.8" stroke="#6a6a6a" stroke-width="1.3"/>
<line x1="255.1" y1="393" x2="255.1" y2="396.8" stroke="#6a6a6a" stroke-width="1.3"/>
<line x1="260.2" y1="393" x2="260.2" y2="396.8" stroke="#6a6a6a" stroke-width="1.3"/>
<line x1="265.2" y1="393" x2="265.2" y2="396.8" stroke="#6a6a6a" stroke-width="1.3"/>
<line x1="270.3" y1="393" x2="270.3" y2="396.8" stroke="#6a6a6a" stroke-width="1.3"/>
<line x1="275.4" y1="393" x2="275.4" y2="396.8" stroke="#6a6a6a" stroke-width="1.3"/>
<line x1="280.4" y1="393" x2="280.4" y2="396.8" stroke="#6a6a6a" stroke-width="1.3"/>
<line x1="285.5" y1="392.6" x2="285.5" y2="401.9" stroke="#111" stroke-width="1.6"/>
<line x1="290.6" y1="393" x2="290.6" y2="396.8" stroke="#6a6a6a" stroke-width="1.3"/>
<line x1="295.7" y1="393" x2="295.7" y2="396.8" stroke="#6a6a6a" stroke-width="1.3"/>
<line x1="300.7" y1="393" x2="300.7" y2="396.8" stroke="#6a6a6a" stroke-width="1.3"/>
<line x1="305.8" y1="393" x2="305.8" y2="396.8" stroke="#6a6a6a" stroke-width="1.3"/>
<line x1="310.9" y1="393" x2="310.9" y2="396.8" stroke="#6a6a6a" stroke-width="1.3"/>
<line x1="316.0" y1="393" x2="316.0" y2="396.8" stroke="#6a6a6a" stroke-width="1.3"/>
<line x1="321.0" y1="393" x2="321.0" y2="396.8" stroke="#6a6a6a" stroke-width="1.3"/>
<line x1="326.1" y1="393" x2="326.1" y2="396.8" stroke="#6a6a6a" stroke-width="1.3"/>
<line x1="331.2" y1="393" x2="331.2" y2="396.8" stroke="#6a6a6a" stroke-width="1.3"/>
<line x1="336.2" y1="392.6" x2="336.2" y2="401.9" stroke="#111" stroke-width="1.6"/>
<line x1="341.3" y1="393" x2="341.3" y2="396.8" stroke="#6a6a6a" stroke-width="1.3"/>
<line x1="346.4" y1="393" x2="346.4" y2="396.8" stroke="#6a6a6a" stroke-width="1.3"/>
<line x1="351.5" y1="393" x2="351.5" y2="396.8" stroke="#6a6a6a" stroke-width="1.3"/>
<line x1="356.5" y1="393" x2="356.5" y2="396.8" stroke="#6a6a6a" stroke-width="1.3"/>
<line x1="361.6" y1="393" x2="361.6" y2="396.8" stroke="#6a6a6a" stroke-width="1.3"/>
<line x1="366.7" y1="393" x2="366.7" y2="396.8" stroke="#6a6a6a" stroke-width="1.3"/>
<line x1="371.8" y1="393" x2="371.8" y2="396.8" stroke="#6a6a6a" stroke-width="1.3"/>
<line x1="376.8" y1="393" x2="376.8" y2="396.8" stroke="#6a6a6a" stroke-width="1.3"/>
<line x1="381.9" y1="393" x2="381.9" y2="396.8" stroke="#6a6a6a" stroke-width="1.3"/>
<line x1="387.0" y1="392.6" x2="387.0" y2="401.9" stroke="#111" stroke-width="1.6"/>
<g font-family="'Liberation Sans', Arial, sans-serif" fill="#111" stroke="#111" stroke-width="0.35" stroke-linejoin="round">
<g font-size="16.8" text-anchor="end">
<text x="56.5" y="388.2">0</text>
<text x="56.5" y="313.8">20</text>
<text x="56.5" y="239.5">40</text>
<text x="56.5" y="165.1">60</text>
<text x="56.5" y="90.8">80</text>
<text x="56.5" y="16.4">100</text>
</g>
<g font-size="17" text-anchor="middle">
<text x="80.5" y="417.3">200</text>
<text x="131.2" y="417.3">300</text>
<text x="182.0" y="417.3">400</text>
<text x="232.7" y="417.3">500</text>
<text x="283.4" y="417.3">600</text>
<text x="334.1" y="417.3">700</text>
<text x="384.9" y="417.3">800</text>
</g>
<text x="428.5" y="416.7" font-size="16.7">Isotherm</text>
<text transform="translate(212.7,440.3) scale(1.085,1)" font-size="18.5" word-spacing="0.3">Temperature / °C</text>
<text transform="translate(24.9,279.2) rotate(-90)" font-size="19.9">CO<tspan font-size="13" dy="5.7">2</tspan><tspan dy="-5.7"> Conversion / %</tspan></text>
<g font-size="18.1">
<text transform="translate(78.0,35.7) scale(1.047,1)" fill="#0a0cc0" stroke="#0a0cc0">NiZr51 coked</text>
<text transform="translate(78.0,58.2) scale(1.047,1)" fill="#369a0a" stroke="#369a0a">NiZr CVD coked</text>
<text transform="translate(78.0,81.5) scale(1.047,1)" fill="#08a2fc" stroke="#08a2fc">Ni10Zr90 Powder coked</text>
<text transform="translate(78.0,104.3) scale(1.047,1)" fill="#ff8812" stroke="#ff8812">Pure Ni coked</text>
<text transform="translate(78.7,127.2) scale(1.047,1)" fill="#111" stroke="#111">Theoret. Equilibrium</text>
</g>
</g></svg>
</body></html>
